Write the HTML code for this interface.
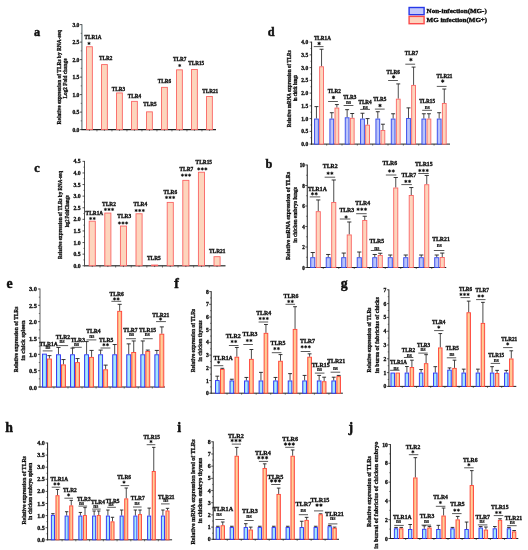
<!DOCTYPE html>
<html><head><meta charset="utf-8"><title>TLR expression figure</title>
<style>
html,body{margin:0;padding:0;background:#fff;width:528px;height:550px;overflow:hidden}
svg{will-change:transform;filter:blur(0.3px)}
svg text{font-family:"Liberation Serif",serif;font-weight:bold;stroke:#111;stroke-width:0.32px}
svg text.L{stroke-width:0.45px}
svg text.G{stroke-width:0.4px}
svg text.N{stroke-width:0.18px}
svg text.T{stroke-width:0.3px}
</style></head><body>
<svg width="528" height="550" viewBox="0 0 528 550" style="display:block"><rect width="528" height="550" fill="#fff"/>
<defs><linearGradient id="gBlue" x1="0" x2="1" y1="0" y2="0"><stop offset="0" stop-color="#aeb6f7"/><stop offset="0.6" stop-color="#bcc7fc"/><stop offset="1" stop-color="#abc2f7"/></linearGradient><linearGradient id="gCyan" x1="0" x2="1" y1="0" y2="0"><stop offset="0" stop-color="#86cdfb"/><stop offset="0.5" stop-color="#acedfb"/><stop offset="1" stop-color="#94d4f8"/></linearGradient><linearGradient id="gOrange" x1="0" x2="1" y1="0" y2="0"><stop offset="0" stop-color="#ffb07c"/><stop offset="0.45" stop-color="#ffd49a"/><stop offset="1" stop-color="#ff9e86"/></linearGradient></defs>
<g id="panel-a">
<line x1="81.9" y1="24.2" x2="81.9" y2="130.1" stroke="#808b8e" stroke-width="1.4"/>
<line x1="81.4" y1="129.6" x2="216" y2="129.6" stroke="#222" stroke-width="1.2"/>
<line x1="79.9" y1="129.6" x2="81.9" y2="129.6" stroke="#222" stroke-width="0.75"/>
<text x="79.4" y="129.6" font-size="5.6" text-anchor="end" dominant-baseline="central" fill="#111">0.0</text>
<line x1="80.7" y1="120.85" x2="81.9" y2="120.85" stroke="#222" stroke-width="0.55"/>
<line x1="79.9" y1="112.1" x2="81.9" y2="112.1" stroke="#222" stroke-width="0.75"/>
<text x="79.4" y="112.1" font-size="5.6" text-anchor="end" dominant-baseline="central" fill="#111">0.5</text>
<line x1="80.7" y1="103.35" x2="81.9" y2="103.35" stroke="#222" stroke-width="0.55"/>
<line x1="79.9" y1="94.6" x2="81.9" y2="94.6" stroke="#222" stroke-width="0.75"/>
<text x="79.4" y="94.6" font-size="5.6" text-anchor="end" dominant-baseline="central" fill="#111">1.0</text>
<line x1="80.7" y1="85.85" x2="81.9" y2="85.85" stroke="#222" stroke-width="0.55"/>
<line x1="79.9" y1="77.1" x2="81.9" y2="77.1" stroke="#222" stroke-width="0.75"/>
<text x="79.4" y="77.1" font-size="5.6" text-anchor="end" dominant-baseline="central" fill="#111">1.5</text>
<line x1="80.7" y1="68.35" x2="81.9" y2="68.35" stroke="#222" stroke-width="0.55"/>
<line x1="79.9" y1="59.6" x2="81.9" y2="59.6" stroke="#222" stroke-width="0.75"/>
<text x="79.4" y="59.6" font-size="5.6" text-anchor="end" dominant-baseline="central" fill="#111">2.0</text>
<line x1="80.7" y1="50.85" x2="81.9" y2="50.85" stroke="#222" stroke-width="0.55"/>
<line x1="79.9" y1="42.1" x2="81.9" y2="42.1" stroke="#222" stroke-width="0.75"/>
<text x="79.4" y="42.1" font-size="5.6" text-anchor="end" dominant-baseline="central" fill="#111">2.5</text>
<line x1="80.7" y1="33.35" x2="81.9" y2="33.35" stroke="#222" stroke-width="0.55"/>
<line x1="79.9" y1="24.6" x2="81.9" y2="24.6" stroke="#222" stroke-width="0.75"/>
<text x="79.4" y="24.6" font-size="5.6" text-anchor="end" dominant-baseline="central" fill="#111">3.0</text>
<rect x="86.55" y="46.75" width="5.8" height="82.85" fill="#fdd5bd" stroke="#fa6464" stroke-width="0.9"/>
<path d="M89.00 41.79 L89.44 42.63 L90.39 42.59 L89.89 43.40 L90.39 44.20 L89.44 44.17 L89.00 45.01 L88.56 44.17 L87.61 44.20 L88.11 43.40 L87.61 42.59 L88.56 42.63 Z" fill="#111" stroke="#111" stroke-width="0.25"/>
<text x="93.1" y="36.8" font-size="5.2" text-anchor="middle" dominant-baseline="central" fill="#111">TLR1A</text>
<line x1="89.45" y1="129.6" x2="89.45" y2="130.9" stroke="#222" stroke-width="0.6"/>
<line x1="96.95" y1="129.6" x2="96.95" y2="131.4" stroke="#222" stroke-width="0.6"/>
<rect x="101.55" y="64.6" width="5.8" height="65" fill="#fdd5bd" stroke="#fa6464" stroke-width="0.9"/>
<text x="105.7" y="58.1" font-size="5.2" text-anchor="middle" dominant-baseline="central" fill="#111">TLR2</text>
<line x1="104.45" y1="129.6" x2="104.45" y2="130.9" stroke="#222" stroke-width="0.6"/>
<line x1="111.95" y1="129.6" x2="111.95" y2="131.4" stroke="#222" stroke-width="0.6"/>
<rect x="116.55" y="92.95" width="5.8" height="36.65" fill="#fdd5bd" stroke="#fa6464" stroke-width="0.9"/>
<text x="118.4" y="89" font-size="5.2" text-anchor="middle" dominant-baseline="central" fill="#111">TLR3</text>
<line x1="119.45" y1="129.6" x2="119.45" y2="130.9" stroke="#222" stroke-width="0.6"/>
<line x1="126.95" y1="129.6" x2="126.95" y2="131.4" stroke="#222" stroke-width="0.6"/>
<rect x="131.55" y="101.35" width="5.8" height="28.25" fill="#fdd5bd" stroke="#fa6464" stroke-width="0.9"/>
<text x="134.4" y="96.2" font-size="5.2" text-anchor="middle" dominant-baseline="central" fill="#111">TLR4</text>
<line x1="134.45" y1="129.6" x2="134.45" y2="130.9" stroke="#222" stroke-width="0.6"/>
<line x1="141.95" y1="129.6" x2="141.95" y2="131.4" stroke="#222" stroke-width="0.6"/>
<rect x="146.55" y="111.85" width="5.8" height="17.75" fill="#fdd5bd" stroke="#fa6464" stroke-width="0.9"/>
<text x="150" y="104.2" font-size="5.2" text-anchor="middle" dominant-baseline="central" fill="#111">TLR5</text>
<line x1="149.45" y1="129.6" x2="149.45" y2="130.9" stroke="#222" stroke-width="0.6"/>
<line x1="156.95" y1="129.6" x2="156.95" y2="131.4" stroke="#222" stroke-width="0.6"/>
<rect x="161.55" y="87.35" width="5.8" height="42.25" fill="#fdd5bd" stroke="#fa6464" stroke-width="0.9"/>
<text x="164.5" y="81.4" font-size="5.2" text-anchor="middle" dominant-baseline="central" fill="#111">TLR6</text>
<line x1="164.45" y1="129.6" x2="164.45" y2="130.9" stroke="#222" stroke-width="0.6"/>
<line x1="171.95" y1="129.6" x2="171.95" y2="131.4" stroke="#222" stroke-width="0.6"/>
<rect x="176.55" y="69.85" width="5.8" height="59.75" fill="#fdd5bd" stroke="#fa6464" stroke-width="0.9"/>
<path d="M179.70 63.89 L180.14 64.73 L181.09 64.69 L180.59 65.50 L181.09 66.31 L180.14 66.27 L179.70 67.11 L179.26 66.27 L178.31 66.31 L178.81 65.50 L178.31 64.69 L179.26 64.73 Z" fill="#111" stroke="#111" stroke-width="0.25"/>
<text x="179.7" y="59.4" font-size="5.2" text-anchor="middle" dominant-baseline="central" fill="#111">TLR7</text>
<line x1="179.45" y1="129.6" x2="179.45" y2="130.9" stroke="#222" stroke-width="0.6"/>
<line x1="186.95" y1="129.6" x2="186.95" y2="131.4" stroke="#222" stroke-width="0.6"/>
<rect x="191.55" y="69.5" width="5.8" height="60.1" fill="#fdd5bd" stroke="#fa6464" stroke-width="0.9"/>
<text x="196.3" y="62.9" font-size="5.2" text-anchor="middle" dominant-baseline="central" fill="#111">TLR15</text>
<line x1="194.45" y1="129.6" x2="194.45" y2="130.9" stroke="#222" stroke-width="0.6"/>
<line x1="201.95" y1="129.6" x2="201.95" y2="131.4" stroke="#222" stroke-width="0.6"/>
<rect x="206.55" y="96.45" width="5.8" height="33.15" fill="#fdd5bd" stroke="#fa6464" stroke-width="0.9"/>
<text x="210.2" y="90.9" font-size="5.2" text-anchor="middle" dominant-baseline="central" fill="#111">TLR21</text>
<line x1="209.45" y1="129.6" x2="209.45" y2="130.9" stroke="#222" stroke-width="0.6"/>
<text class="T" x="58.8" y="77.2" font-size="5.41" text-anchor="middle" dominant-baseline="central" textLength="94.4" lengthAdjust="spacingAndGlyphs" fill="#111" transform="rotate(-90 58.8 77.2)">Relative expression of TLRs by RNA-seq</text>
<text class="T" x="65.5" y="78.45" font-size="5.4" text-anchor="middle" dominant-baseline="central" textLength="39.9" lengthAdjust="spacingAndGlyphs" fill="#111" transform="rotate(-90 65.5 78.45)">Log2 Fold change</text>
<text class="L" x="37.2" y="32.44" font-size="12.3" text-anchor="middle" dominant-baseline="central" fill="#111">a</text>
</g>
<g id="panel-c">
<line x1="84.5" y1="160.95" x2="84.5" y2="266.25" stroke="#222" stroke-width="0.8"/>
<line x1="84" y1="265.75" x2="225.5" y2="265.75" stroke="#555" stroke-width="1.3"/>
<line x1="82.5" y1="265.75" x2="84.5" y2="265.75" stroke="#222" stroke-width="0.75"/>
<text x="80.6" y="265.75" font-size="5.7" text-anchor="end" dominant-baseline="central" fill="#111">0.0</text>
<line x1="83.3" y1="259.95" x2="84.5" y2="259.95" stroke="#222" stroke-width="0.55"/>
<line x1="82.5" y1="254.15" x2="84.5" y2="254.15" stroke="#222" stroke-width="0.75"/>
<text x="80.6" y="254.15" font-size="5.7" text-anchor="end" dominant-baseline="central" fill="#111">0.5</text>
<line x1="83.3" y1="248.35" x2="84.5" y2="248.35" stroke="#222" stroke-width="0.55"/>
<line x1="82.5" y1="242.55" x2="84.5" y2="242.55" stroke="#222" stroke-width="0.75"/>
<text x="80.6" y="242.55" font-size="5.7" text-anchor="end" dominant-baseline="central" fill="#111">1.0</text>
<line x1="83.3" y1="236.75" x2="84.5" y2="236.75" stroke="#222" stroke-width="0.55"/>
<line x1="82.5" y1="230.95" x2="84.5" y2="230.95" stroke="#222" stroke-width="0.75"/>
<text x="80.6" y="230.95" font-size="5.7" text-anchor="end" dominant-baseline="central" fill="#111">1.5</text>
<line x1="83.3" y1="225.15" x2="84.5" y2="225.15" stroke="#222" stroke-width="0.55"/>
<line x1="82.5" y1="219.35" x2="84.5" y2="219.35" stroke="#222" stroke-width="0.75"/>
<text x="80.6" y="219.35" font-size="5.7" text-anchor="end" dominant-baseline="central" fill="#111">2.0</text>
<line x1="83.3" y1="213.55" x2="84.5" y2="213.55" stroke="#222" stroke-width="0.55"/>
<line x1="82.5" y1="207.75" x2="84.5" y2="207.75" stroke="#222" stroke-width="0.75"/>
<text x="80.6" y="207.75" font-size="5.7" text-anchor="end" dominant-baseline="central" fill="#111">2.5</text>
<line x1="83.3" y1="201.95" x2="84.5" y2="201.95" stroke="#222" stroke-width="0.55"/>
<line x1="82.5" y1="196.15" x2="84.5" y2="196.15" stroke="#222" stroke-width="0.75"/>
<text x="80.6" y="196.15" font-size="5.7" text-anchor="end" dominant-baseline="central" fill="#111">3.0</text>
<line x1="83.3" y1="190.35" x2="84.5" y2="190.35" stroke="#222" stroke-width="0.55"/>
<line x1="82.5" y1="184.55" x2="84.5" y2="184.55" stroke="#222" stroke-width="0.75"/>
<text x="80.6" y="184.55" font-size="5.7" text-anchor="end" dominant-baseline="central" fill="#111">3.5</text>
<line x1="83.3" y1="178.75" x2="84.5" y2="178.75" stroke="#222" stroke-width="0.55"/>
<line x1="82.5" y1="172.95" x2="84.5" y2="172.95" stroke="#222" stroke-width="0.75"/>
<text x="80.6" y="172.95" font-size="5.7" text-anchor="end" dominant-baseline="central" fill="#111">4.0</text>
<line x1="83.3" y1="167.15" x2="84.5" y2="167.15" stroke="#222" stroke-width="0.55"/>
<line x1="82.5" y1="161.35" x2="84.5" y2="161.35" stroke="#222" stroke-width="0.75"/>
<text x="80.6" y="161.35" font-size="5.7" text-anchor="end" dominant-baseline="central" fill="#111">4.5</text>
<rect x="89.2" y="221.19" width="6.1" height="44.56" fill="#fdd5bd" stroke="#fa6464" stroke-width="0.9"/>
<path d="M90.62 216.89 L91.06 217.73 L92.01 217.69 L91.50 218.50 L92.01 219.31 L91.06 219.27 L90.62 220.11 L90.17 219.27 L89.22 219.31 L89.73 218.50 L89.22 217.69 L90.17 217.73 ZM94.19 216.89 L94.63 217.73 L95.58 217.69 L95.07 218.50 L95.58 219.31 L94.63 219.27 L94.19 220.11 L93.74 219.27 L92.79 219.31 L93.30 218.50 L92.79 217.69 L93.74 217.73 Z" fill="#111" stroke="#111" stroke-width="0.25"/>
<text x="94.4" y="213.2" font-size="5.4" text-anchor="middle" dominant-baseline="central" fill="#111">TLR1A</text>
<line x1="92.25" y1="265.75" x2="92.25" y2="267.05" stroke="#222" stroke-width="0.6"/>
<line x1="100.05" y1="265.75" x2="100.05" y2="267.55" stroke="#222" stroke-width="0.6"/>
<rect x="104.8" y="213.07" width="6.1" height="52.68" fill="#fdd5bd" stroke="#fa6464" stroke-width="0.9"/>
<path d="M105.43 207.79 L105.87 208.63 L106.82 208.59 L106.32 209.40 L106.82 210.21 L105.87 210.17 L105.43 211.01 L104.99 210.17 L104.04 210.21 L104.54 209.40 L104.04 208.59 L104.99 208.63 ZM109.00 207.79 L109.44 208.63 L110.39 208.59 L109.89 209.40 L110.39 210.21 L109.44 210.17 L109.00 211.01 L108.56 210.17 L107.61 210.21 L108.11 209.40 L107.61 208.59 L108.56 208.63 ZM112.57 207.79 L113.01 208.63 L113.96 208.59 L113.46 209.40 L113.96 210.21 L113.01 210.17 L112.57 211.01 L112.13 210.17 L111.18 210.21 L111.68 209.40 L111.18 208.59 L112.13 208.63 Z" fill="#111" stroke="#111" stroke-width="0.25"/>
<text x="109" y="204.1" font-size="5.4" text-anchor="middle" dominant-baseline="central" fill="#111">TLR2</text>
<line x1="107.85" y1="265.75" x2="107.85" y2="267.05" stroke="#222" stroke-width="0.6"/>
<line x1="115.65" y1="265.75" x2="115.65" y2="267.55" stroke="#222" stroke-width="0.6"/>
<rect x="120.4" y="226.06" width="6.1" height="39.69" fill="#fdd5bd" stroke="#fa6464" stroke-width="0.9"/>
<path d="M119.43 221.39 L119.87 222.23 L120.82 222.19 L120.32 223.00 L120.82 223.81 L119.87 223.77 L119.43 224.61 L118.99 223.77 L118.04 223.81 L118.54 223.00 L118.04 222.19 L118.99 222.23 ZM123.00 221.39 L123.44 222.23 L124.39 222.19 L123.89 223.00 L124.39 223.81 L123.44 223.77 L123.00 224.61 L122.56 223.77 L121.61 223.81 L122.11 223.00 L121.61 222.19 L122.56 222.23 ZM126.57 221.39 L127.01 222.23 L127.96 222.19 L127.46 223.00 L127.96 223.81 L127.01 223.77 L126.57 224.61 L126.13 223.77 L125.18 223.81 L125.68 223.00 L125.18 222.19 L126.13 222.23 Z" fill="#111" stroke="#111" stroke-width="0.25"/>
<text x="124.2" y="215.8" font-size="5.4" text-anchor="middle" dominant-baseline="central" fill="#111">TLR3</text>
<line x1="123.45" y1="265.75" x2="123.45" y2="267.05" stroke="#222" stroke-width="0.6"/>
<line x1="131.25" y1="265.75" x2="131.25" y2="267.55" stroke="#222" stroke-width="0.6"/>
<rect x="136" y="213.77" width="6.1" height="51.98" fill="#fdd5bd" stroke="#fa6464" stroke-width="0.9"/>
<path d="M136.13 208.89 L136.57 209.73 L137.52 209.69 L137.02 210.50 L137.52 211.31 L136.57 211.27 L136.13 212.11 L135.69 211.27 L134.74 211.31 L135.24 210.50 L134.74 209.69 L135.69 209.73 ZM139.70 208.89 L140.14 209.73 L141.09 209.69 L140.59 210.50 L141.09 211.31 L140.14 211.27 L139.70 212.11 L139.26 211.27 L138.31 211.31 L138.81 210.50 L138.31 209.69 L139.26 209.73 ZM143.27 208.89 L143.71 209.73 L144.66 209.69 L144.16 210.50 L144.66 211.31 L143.71 211.27 L143.27 212.11 L142.83 211.27 L141.88 211.31 L142.38 210.50 L141.88 209.69 L142.83 209.73 Z" fill="#111" stroke="#111" stroke-width="0.25"/>
<text x="140.3" y="203.8" font-size="5.4" text-anchor="middle" dominant-baseline="central" fill="#111">TLR4</text>
<line x1="139.05" y1="265.75" x2="139.05" y2="267.05" stroke="#222" stroke-width="0.6"/>
<line x1="146.85" y1="265.75" x2="146.85" y2="267.55" stroke="#222" stroke-width="0.6"/>
<rect x="151.6" y="265.04" width="6.1" height="0.71" fill="#fdd5bd" stroke="#fa6464" stroke-width="0.9"/>
<text x="153.9" y="257.6" font-size="5.4" text-anchor="middle" dominant-baseline="central" fill="#111">TLR5</text>
<line x1="154.65" y1="265.75" x2="154.65" y2="267.05" stroke="#222" stroke-width="0.6"/>
<line x1="162.45" y1="265.75" x2="162.45" y2="267.55" stroke="#222" stroke-width="0.6"/>
<rect x="167.2" y="202.4" width="6.1" height="63.35" fill="#fdd5bd" stroke="#fa6464" stroke-width="0.9"/>
<path d="M166.53 195.79 L166.97 196.63 L167.92 196.59 L167.42 197.40 L167.92 198.21 L166.97 198.17 L166.53 199.01 L166.09 198.17 L165.14 198.21 L165.64 197.40 L165.14 196.59 L166.09 196.63 ZM170.10 195.79 L170.54 196.63 L171.49 196.59 L170.99 197.40 L171.49 198.21 L170.54 198.17 L170.10 199.01 L169.66 198.17 L168.71 198.21 L169.21 197.40 L168.71 196.59 L169.66 196.63 ZM173.67 195.79 L174.11 196.63 L175.06 196.59 L174.56 197.40 L175.06 198.21 L174.11 198.17 L173.67 199.01 L173.23 198.17 L172.28 198.21 L172.78 197.40 L172.28 196.59 L173.23 196.63 Z" fill="#111" stroke="#111" stroke-width="0.25"/>
<text x="170.3" y="192.1" font-size="5.4" text-anchor="middle" dominant-baseline="central" fill="#111">TLR6</text>
<line x1="170.25" y1="265.75" x2="170.25" y2="267.05" stroke="#222" stroke-width="0.6"/>
<line x1="178.05" y1="265.75" x2="178.05" y2="267.55" stroke="#222" stroke-width="0.6"/>
<rect x="182.8" y="180.36" width="6.1" height="85.39" fill="#fdd5bd" stroke="#fa6464" stroke-width="0.9"/>
<path d="M182.43 173.59 L182.87 174.43 L183.82 174.39 L183.32 175.20 L183.82 176.00 L182.87 175.97 L182.43 176.81 L181.99 175.97 L181.04 176.00 L181.54 175.20 L181.04 174.39 L181.99 174.43 ZM186.00 173.59 L186.44 174.43 L187.39 174.39 L186.89 175.20 L187.39 176.00 L186.44 175.97 L186.00 176.81 L185.56 175.97 L184.61 176.00 L185.11 175.20 L184.61 174.39 L185.56 174.43 ZM189.57 173.59 L190.01 174.43 L190.96 174.39 L190.46 175.20 L190.96 176.00 L190.01 175.97 L189.57 176.81 L189.13 175.97 L188.18 176.00 L188.68 175.20 L188.18 174.39 L189.13 174.43 Z" fill="#111" stroke="#111" stroke-width="0.25"/>
<text x="186.4" y="168.9" font-size="5.4" text-anchor="middle" dominant-baseline="central" fill="#111">TLR7</text>
<line x1="185.85" y1="265.75" x2="185.85" y2="267.05" stroke="#222" stroke-width="0.6"/>
<line x1="193.65" y1="265.75" x2="193.65" y2="267.55" stroke="#222" stroke-width="0.6"/>
<rect x="198.4" y="172.24" width="6.1" height="93.51" fill="#fdd5bd" stroke="#fa6464" stroke-width="0.9"/>
<path d="M198.73 167.29 L199.17 168.13 L200.12 168.09 L199.62 168.90 L200.12 169.71 L199.17 169.67 L198.73 170.51 L198.29 169.67 L197.34 169.71 L197.84 168.90 L197.34 168.09 L198.29 168.13 ZM202.30 167.29 L202.74 168.13 L203.69 168.09 L203.19 168.90 L203.69 169.71 L202.74 169.67 L202.30 170.51 L201.86 169.67 L200.91 169.71 L201.41 168.90 L200.91 168.09 L201.86 168.13 ZM205.87 167.29 L206.31 168.13 L207.26 168.09 L206.76 168.90 L207.26 169.71 L206.31 169.67 L205.87 170.51 L205.43 169.67 L204.48 169.71 L204.98 168.90 L204.48 168.09 L205.43 168.13 Z" fill="#111" stroke="#111" stroke-width="0.25"/>
<text x="203.8" y="161.8" font-size="5.4" text-anchor="middle" dominant-baseline="central" fill="#111">TLR15</text>
<line x1="201.45" y1="265.75" x2="201.45" y2="267.05" stroke="#222" stroke-width="0.6"/>
<line x1="209.25" y1="265.75" x2="209.25" y2="267.55" stroke="#222" stroke-width="0.6"/>
<rect x="214" y="256.69" width="6.1" height="9.06" fill="#fdd5bd" stroke="#fa6464" stroke-width="0.9"/>
<text x="217.2" y="251" font-size="5.4" text-anchor="middle" dominant-baseline="central" fill="#111">TLR21</text>
<line x1="217.05" y1="265.75" x2="217.05" y2="267.05" stroke="#222" stroke-width="0.6"/>
<text class="T" x="59.6" y="215" font-size="5.4" text-anchor="middle" dominant-baseline="central" textLength="88.2" lengthAdjust="spacingAndGlyphs" fill="#111" transform="rotate(-90 59.6 215)">Relative expression of TLRs by RNA-seq</text>
<text class="T" x="67.1" y="211.35" font-size="5.4" text-anchor="middle" dominant-baseline="central" textLength="31.9" lengthAdjust="spacingAndGlyphs" fill="#111" transform="rotate(-90 67.1 211.35)">log2 FoldChange</text>
<text class="L" x="37" y="168.24" font-size="12.3" text-anchor="middle" dominant-baseline="central" fill="#111">c</text>
</g>
<g id="panel-d">
<line x1="311.6" y1="41.7" x2="311.6" y2="144.6" stroke="#222" stroke-width="1"/>
<line x1="311.1" y1="144.1" x2="450" y2="144.1" stroke="#222" stroke-width="1"/>
<line x1="309.6" y1="144.1" x2="311.6" y2="144.1" stroke="#222" stroke-width="0.75"/>
<text x="308.2" y="144.1" font-size="5.5" text-anchor="end" dominant-baseline="central" fill="#111">0.0</text>
<line x1="310.4" y1="137.72" x2="311.6" y2="137.72" stroke="#222" stroke-width="0.55"/>
<line x1="309.6" y1="131.35" x2="311.6" y2="131.35" stroke="#222" stroke-width="0.75"/>
<text x="308.2" y="131.35" font-size="5.5" text-anchor="end" dominant-baseline="central" fill="#111">0.5</text>
<line x1="310.4" y1="124.97" x2="311.6" y2="124.97" stroke="#222" stroke-width="0.55"/>
<line x1="309.6" y1="118.6" x2="311.6" y2="118.6" stroke="#222" stroke-width="0.75"/>
<text x="308.2" y="118.6" font-size="5.5" text-anchor="end" dominant-baseline="central" fill="#111">1.0</text>
<line x1="310.4" y1="112.22" x2="311.6" y2="112.22" stroke="#222" stroke-width="0.55"/>
<line x1="309.6" y1="105.85" x2="311.6" y2="105.85" stroke="#222" stroke-width="0.75"/>
<text x="308.2" y="105.85" font-size="5.5" text-anchor="end" dominant-baseline="central" fill="#111">1.5</text>
<line x1="310.4" y1="99.47" x2="311.6" y2="99.47" stroke="#222" stroke-width="0.55"/>
<line x1="309.6" y1="93.1" x2="311.6" y2="93.1" stroke="#222" stroke-width="0.75"/>
<text x="308.2" y="93.1" font-size="5.5" text-anchor="end" dominant-baseline="central" fill="#111">2.0</text>
<line x1="310.4" y1="86.72" x2="311.6" y2="86.72" stroke="#222" stroke-width="0.55"/>
<line x1="309.6" y1="80.35" x2="311.6" y2="80.35" stroke="#222" stroke-width="0.75"/>
<text x="308.2" y="80.35" font-size="5.5" text-anchor="end" dominant-baseline="central" fill="#111">2.5</text>
<line x1="310.4" y1="73.97" x2="311.6" y2="73.97" stroke="#222" stroke-width="0.55"/>
<line x1="309.6" y1="67.6" x2="311.6" y2="67.6" stroke="#222" stroke-width="0.75"/>
<text x="308.2" y="67.6" font-size="5.5" text-anchor="end" dominant-baseline="central" fill="#111">3.0</text>
<line x1="310.4" y1="61.22" x2="311.6" y2="61.22" stroke="#222" stroke-width="0.55"/>
<line x1="309.6" y1="54.85" x2="311.6" y2="54.85" stroke="#222" stroke-width="0.75"/>
<text x="308.2" y="54.85" font-size="5.5" text-anchor="end" dominant-baseline="central" fill="#111">3.5</text>
<line x1="310.4" y1="48.47" x2="311.6" y2="48.47" stroke="#222" stroke-width="0.55"/>
<line x1="309.6" y1="42.1" x2="311.6" y2="42.1" stroke="#222" stroke-width="0.75"/>
<text x="308.2" y="42.1" font-size="5.5" text-anchor="end" dominant-baseline="central" fill="#111">4.0</text>
<line x1="316.45" y1="106.61" x2="316.45" y2="118.6" stroke="#1e1e1e" stroke-width="0.8"/>
<line x1="314.48" y1="106.61" x2="318.42" y2="106.61" stroke="#1e1e1e" stroke-width="0.9"/>
<line x1="321.55" y1="49.24" x2="321.55" y2="66.33" stroke="#1e1e1e" stroke-width="0.8"/>
<line x1="319.58" y1="49.24" x2="323.52" y2="49.24" stroke="#1e1e1e" stroke-width="0.9"/>
<rect x="314.55" y="119.05" width="3.8" height="25.05" fill="url(#gBlue)" stroke="#3348ea" stroke-width="0.9"/>
<rect x="319.65" y="66.78" width="3.8" height="77.32" fill="#fdd5bd" stroke="#fa6464" stroke-width="0.9"/>
<line x1="313.75" y1="46.6" x2="323.55" y2="46.6" stroke="#222" stroke-width="0.75"/>
<path d="M319.10 41.66 L319.61 42.62 L320.69 42.58 L320.11 43.50 L320.69 44.42 L319.61 44.38 L319.10 45.34 L318.59 44.38 L317.51 44.42 L318.09 43.50 L317.51 42.58 L318.59 42.62 Z" fill="#111" stroke="#111" stroke-width="0.25"/>
<text x="322.4" y="38.2" font-size="5.2" text-anchor="middle" dominant-baseline="central" fill="#111">TLR1A</text>
<line x1="326.67" y1="144.1" x2="326.67" y2="145.6" stroke="#222" stroke-width="0.6"/>
<line x1="331.79" y1="112.73" x2="331.79" y2="118.6" stroke="#1e1e1e" stroke-width="0.8"/>
<line x1="329.82" y1="112.73" x2="333.76" y2="112.73" stroke="#1e1e1e" stroke-width="0.9"/>
<line x1="336.89" y1="104.57" x2="336.89" y2="107.63" stroke="#1e1e1e" stroke-width="0.8"/>
<line x1="334.92" y1="104.57" x2="338.86" y2="104.57" stroke="#1e1e1e" stroke-width="0.9"/>
<rect x="329.89" y="119.05" width="3.8" height="25.05" fill="url(#gBlue)" stroke="#3348ea" stroke-width="0.9"/>
<rect x="334.99" y="108.08" width="3.8" height="36.01" fill="#fdd5bd" stroke="#fa6464" stroke-width="0.9"/>
<line x1="328.1" y1="101.5" x2="337.9" y2="101.5" stroke="#222" stroke-width="0.75"/>
<path d="M333.50 95.66 L334.01 96.62 L335.09 96.58 L334.51 97.50 L335.09 98.42 L334.01 98.38 L333.50 99.34 L332.99 98.38 L331.91 98.42 L332.49 97.50 L331.91 96.58 L332.99 96.62 Z" fill="#111" stroke="#111" stroke-width="0.25"/>
<text x="334.3" y="91" font-size="5.2" text-anchor="middle" dominant-baseline="central" fill="#111">TLR2</text>
<line x1="342.01" y1="144.1" x2="342.01" y2="145.6" stroke="#222" stroke-width="0.6"/>
<line x1="347.13" y1="109.67" x2="347.13" y2="117.32" stroke="#1e1e1e" stroke-width="0.8"/>
<line x1="345.16" y1="109.67" x2="349.1" y2="109.67" stroke="#1e1e1e" stroke-width="0.9"/>
<line x1="352.23" y1="113.5" x2="352.23" y2="117.83" stroke="#1e1e1e" stroke-width="0.8"/>
<line x1="350.26" y1="113.5" x2="354.2" y2="113.5" stroke="#1e1e1e" stroke-width="0.9"/>
<rect x="345.23" y="117.77" width="3.8" height="26.33" fill="url(#gBlue)" stroke="#3348ea" stroke-width="0.9"/>
<rect x="350.33" y="118.28" width="3.8" height="25.82" fill="#fdd5bd" stroke="#fa6464" stroke-width="0.9"/>
<line x1="343.6" y1="105.5" x2="353.4" y2="105.5" stroke="#222" stroke-width="0.75"/>
<text class="N" x="348.5" y="102.47" font-size="5.3" text-anchor="middle" dominant-baseline="central" fill="#111">ns</text>
<text x="349.8" y="96.9" font-size="5.2" text-anchor="middle" dominant-baseline="central" fill="#111">TLR3</text>
<line x1="357.35" y1="144.1" x2="357.35" y2="145.6" stroke="#222" stroke-width="0.6"/>
<line x1="362.47" y1="113.24" x2="362.47" y2="118.6" stroke="#1e1e1e" stroke-width="0.8"/>
<line x1="360.5" y1="113.24" x2="364.44" y2="113.24" stroke="#1e1e1e" stroke-width="0.9"/>
<line x1="367.57" y1="118.6" x2="367.57" y2="124.72" stroke="#1e1e1e" stroke-width="0.8"/>
<line x1="365.6" y1="118.6" x2="369.54" y2="118.6" stroke="#1e1e1e" stroke-width="0.9"/>
<rect x="360.57" y="119.05" width="3.8" height="25.05" fill="url(#gBlue)" stroke="#3348ea" stroke-width="0.9"/>
<rect x="365.67" y="125.17" width="3.8" height="18.93" fill="#fdd5bd" stroke="#fa6464" stroke-width="0.9"/>
<line x1="360.2" y1="109.4" x2="370" y2="109.4" stroke="#222" stroke-width="0.75"/>
<text class="N" x="365.2" y="106.97" font-size="5.3" text-anchor="middle" dominant-baseline="central" fill="#111">ns</text>
<text x="365.1" y="101.8" font-size="5.2" text-anchor="middle" dominant-baseline="central" fill="#111">TLR4</text>
<line x1="372.69" y1="144.1" x2="372.69" y2="145.6" stroke="#222" stroke-width="0.6"/>
<line x1="377.81" y1="111.72" x2="377.81" y2="118.6" stroke="#1e1e1e" stroke-width="0.8"/>
<line x1="375.84" y1="111.72" x2="379.78" y2="111.72" stroke="#1e1e1e" stroke-width="0.9"/>
<line x1="382.91" y1="124.21" x2="382.91" y2="130.07" stroke="#1e1e1e" stroke-width="0.8"/>
<line x1="380.94" y1="124.21" x2="384.88" y2="124.21" stroke="#1e1e1e" stroke-width="0.9"/>
<rect x="375.91" y="119.05" width="3.8" height="25.05" fill="url(#gBlue)" stroke="#3348ea" stroke-width="0.9"/>
<rect x="381.01" y="130.52" width="3.8" height="13.58" fill="#fdd5bd" stroke="#fa6464" stroke-width="0.9"/>
<line x1="374.9" y1="109.1" x2="384.7" y2="109.1" stroke="#222" stroke-width="0.75"/>
<path d="M380.00 103.66 L380.51 104.62 L381.59 104.58 L381.01 105.50 L381.59 106.42 L380.51 106.38 L380.00 107.34 L379.49 106.38 L378.41 106.42 L378.99 105.50 L378.41 104.58 L379.49 104.62 Z" fill="#111" stroke="#111" stroke-width="0.25"/>
<text x="379.8" y="99.2" font-size="5.2" text-anchor="middle" dominant-baseline="central" fill="#111">TLR5</text>
<line x1="388.03" y1="144.1" x2="388.03" y2="145.6" stroke="#222" stroke-width="0.6"/>
<line x1="393.15" y1="113.75" x2="393.15" y2="118.6" stroke="#1e1e1e" stroke-width="0.8"/>
<line x1="391.18" y1="113.75" x2="395.12" y2="113.75" stroke="#1e1e1e" stroke-width="0.9"/>
<line x1="398.25" y1="83.92" x2="398.25" y2="98.71" stroke="#1e1e1e" stroke-width="0.8"/>
<line x1="396.28" y1="83.92" x2="400.22" y2="83.92" stroke="#1e1e1e" stroke-width="0.9"/>
<rect x="391.25" y="119.05" width="3.8" height="25.05" fill="url(#gBlue)" stroke="#3348ea" stroke-width="0.9"/>
<rect x="396.35" y="99.16" width="3.8" height="44.94" fill="#fdd5bd" stroke="#fa6464" stroke-width="0.9"/>
<line x1="388.1" y1="80.5" x2="397.9" y2="80.5" stroke="#222" stroke-width="0.75"/>
<path d="M393.60 74.96 L394.11 75.92 L395.19 75.88 L394.61 76.80 L395.19 77.72 L394.11 77.68 L393.60 78.64 L393.09 77.68 L392.01 77.72 L392.59 76.80 L392.01 75.88 L393.09 75.92 Z" fill="#111" stroke="#111" stroke-width="0.25"/>
<text x="393.2" y="71.5" font-size="5.2" text-anchor="middle" dominant-baseline="central" fill="#111">TLR6</text>
<line x1="403.37" y1="144.1" x2="403.37" y2="145.6" stroke="#222" stroke-width="0.6"/>
<line x1="408.49" y1="107.89" x2="408.49" y2="118.09" stroke="#1e1e1e" stroke-width="0.8"/>
<line x1="406.52" y1="107.89" x2="410.46" y2="107.89" stroke="#1e1e1e" stroke-width="0.9"/>
<line x1="413.59" y1="67.09" x2="413.59" y2="84.94" stroke="#1e1e1e" stroke-width="0.8"/>
<line x1="411.62" y1="67.09" x2="415.56" y2="67.09" stroke="#1e1e1e" stroke-width="0.9"/>
<rect x="406.59" y="118.54" width="3.8" height="25.56" fill="url(#gBlue)" stroke="#3348ea" stroke-width="0.9"/>
<rect x="411.69" y="85.39" width="3.8" height="58.71" fill="#fdd5bd" stroke="#fa6464" stroke-width="0.9"/>
<line x1="405.3" y1="64.2" x2="415.1" y2="64.2" stroke="#222" stroke-width="0.75"/>
<path d="M410.90 57.76 L411.41 58.72 L412.49 58.68 L411.91 59.60 L412.49 60.52 L411.41 60.48 L410.90 61.44 L410.39 60.48 L409.31 60.52 L409.89 59.60 L409.31 58.68 L410.39 58.72 Z" fill="#111" stroke="#111" stroke-width="0.25"/>
<text x="411.5" y="52.7" font-size="5.2" text-anchor="middle" dominant-baseline="central" fill="#111">TLR7</text>
<line x1="418.71" y1="144.1" x2="418.71" y2="145.6" stroke="#222" stroke-width="0.6"/>
<line x1="423.83" y1="113.75" x2="423.83" y2="118.6" stroke="#1e1e1e" stroke-width="0.8"/>
<line x1="421.86" y1="113.75" x2="425.8" y2="113.75" stroke="#1e1e1e" stroke-width="0.9"/>
<line x1="428.93" y1="113.75" x2="428.93" y2="118.6" stroke="#1e1e1e" stroke-width="0.8"/>
<line x1="426.96" y1="113.75" x2="430.9" y2="113.75" stroke="#1e1e1e" stroke-width="0.9"/>
<rect x="421.93" y="119.05" width="3.8" height="25.05" fill="url(#gBlue)" stroke="#3348ea" stroke-width="0.9"/>
<rect x="427.03" y="119.05" width="3.8" height="25.05" fill="#fdd5bd" stroke="#fa6464" stroke-width="0.9"/>
<line x1="422.2" y1="110.3" x2="432" y2="110.3" stroke="#222" stroke-width="0.75"/>
<text class="N" x="427.2" y="106.77" font-size="5.3" text-anchor="middle" dominant-baseline="central" fill="#111">ns</text>
<text x="427.1" y="101.4" font-size="5.2" text-anchor="middle" dominant-baseline="central" fill="#111">TLR15</text>
<line x1="434.05" y1="144.1" x2="434.05" y2="145.6" stroke="#222" stroke-width="0.6"/>
<line x1="439.17" y1="112.73" x2="439.17" y2="118.6" stroke="#1e1e1e" stroke-width="0.8"/>
<line x1="437.2" y1="112.73" x2="441.14" y2="112.73" stroke="#1e1e1e" stroke-width="0.9"/>
<line x1="444.27" y1="89.02" x2="444.27" y2="103.04" stroke="#1e1e1e" stroke-width="0.8"/>
<line x1="442.3" y1="89.02" x2="446.24" y2="89.02" stroke="#1e1e1e" stroke-width="0.9"/>
<rect x="437.27" y="119.05" width="3.8" height="25.05" fill="url(#gBlue)" stroke="#3348ea" stroke-width="0.9"/>
<rect x="442.37" y="103.49" width="3.8" height="40.6" fill="#fdd5bd" stroke="#fa6464" stroke-width="0.9"/>
<line x1="436.8" y1="86.4" x2="446.6" y2="86.4" stroke="#222" stroke-width="0.75"/>
<path d="M442.70 79.26 L443.21 80.22 L444.29 80.18 L443.71 81.10 L444.29 82.02 L443.21 81.98 L442.70 82.94 L442.19 81.98 L441.11 82.02 L441.69 81.10 L441.11 80.18 L442.19 80.22 Z" fill="#111" stroke="#111" stroke-width="0.25"/>
<text x="444.5" y="75.9" font-size="5.2" text-anchor="middle" dominant-baseline="central" fill="#111">TLR21</text>
<text class="T" x="289.2" y="88.75" font-size="5.4" text-anchor="middle" dominant-baseline="central" textLength="76.9" lengthAdjust="spacingAndGlyphs" fill="#111" transform="rotate(-90 289.2 88.75)">Relative mRNA expression of TLRs</text>
<text class="T" x="294.8" y="88" font-size="5.4" text-anchor="middle" dominant-baseline="central" textLength="26.2" lengthAdjust="spacingAndGlyphs" fill="#111" transform="rotate(-90 294.8 88)">in chick lungs</text>
<text class="L" x="271.1" y="32.45" font-size="12.3" text-anchor="middle" dominant-baseline="central" fill="#111">d</text>
</g>
<g id="panel-b">
<line x1="307.25" y1="164.6" x2="307.25" y2="268" stroke="#222" stroke-width="1"/>
<line x1="306.75" y1="267.5" x2="446.25" y2="267.5" stroke="#222" stroke-width="1"/>
<line x1="305.25" y1="267.5" x2="307.25" y2="267.5" stroke="#222" stroke-width="0.75"/>
<text x="304.75" y="267.5" font-size="5.1" text-anchor="end" dominant-baseline="central" fill="#111">0</text>
<line x1="306.05" y1="257.25" x2="307.25" y2="257.25" stroke="#222" stroke-width="0.55"/>
<line x1="305.25" y1="247" x2="307.25" y2="247" stroke="#222" stroke-width="0.75"/>
<text x="304.75" y="247" font-size="5.1" text-anchor="end" dominant-baseline="central" fill="#111">2</text>
<line x1="306.05" y1="236.75" x2="307.25" y2="236.75" stroke="#222" stroke-width="0.55"/>
<line x1="305.25" y1="226.5" x2="307.25" y2="226.5" stroke="#222" stroke-width="0.75"/>
<text x="304.75" y="226.5" font-size="5.1" text-anchor="end" dominant-baseline="central" fill="#111">4</text>
<line x1="306.05" y1="216.25" x2="307.25" y2="216.25" stroke="#222" stroke-width="0.55"/>
<line x1="305.25" y1="206" x2="307.25" y2="206" stroke="#222" stroke-width="0.75"/>
<text x="304.75" y="206" font-size="5.1" text-anchor="end" dominant-baseline="central" fill="#111">6</text>
<line x1="306.05" y1="195.75" x2="307.25" y2="195.75" stroke="#222" stroke-width="0.55"/>
<line x1="305.25" y1="185.5" x2="307.25" y2="185.5" stroke="#222" stroke-width="0.75"/>
<text x="304.75" y="185.5" font-size="5.1" text-anchor="end" dominant-baseline="central" fill="#111">8</text>
<line x1="306.05" y1="175.25" x2="307.25" y2="175.25" stroke="#222" stroke-width="0.55"/>
<line x1="305.25" y1="165" x2="307.25" y2="165" stroke="#222" stroke-width="0.75"/>
<text x="304.75" y="165" font-size="5.1" text-anchor="end" dominant-baseline="central" fill="#111">10</text>
<line x1="312.75" y1="252.53" x2="312.75" y2="257.25" stroke="#1e1e1e" stroke-width="0.8"/>
<line x1="310.65" y1="252.53" x2="314.85" y2="252.53" stroke="#1e1e1e" stroke-width="0.9"/>
<line x1="318.25" y1="199.95" x2="318.25" y2="211.23" stroke="#1e1e1e" stroke-width="0.8"/>
<line x1="316.15" y1="199.95" x2="320.35" y2="199.95" stroke="#1e1e1e" stroke-width="0.9"/>
<rect x="310.7" y="257.7" width="4.1" height="9.8" fill="url(#gBlue)" stroke="#3348ea" stroke-width="0.9"/>
<rect x="316.2" y="211.68" width="4.1" height="55.82" fill="#fdd5bd" stroke="#fa6464" stroke-width="0.9"/>
<line x1="309.75" y1="196.9" x2="320.25" y2="196.9" stroke="#222" stroke-width="0.75"/>
<path d="M312.44 192.12 L312.90 193.00 L313.89 192.96 L313.36 193.80 L313.89 194.64 L312.90 194.60 L312.44 195.48 L311.98 194.60 L310.98 194.64 L311.52 193.80 L310.98 192.96 L311.98 193.00 ZM316.16 192.12 L316.62 193.00 L317.62 192.96 L317.08 193.80 L317.62 194.64 L316.62 194.60 L316.16 195.48 L315.70 194.60 L314.71 194.64 L315.24 193.80 L314.71 192.96 L315.70 193.00 Z" fill="#111" stroke="#111" stroke-width="0.25"/>
<text x="317.4" y="188.5" font-size="5.8" text-anchor="middle" dominant-baseline="central" fill="#111">TLR1A</text>
<line x1="323.25" y1="267.5" x2="323.25" y2="269" stroke="#222" stroke-width="0.6"/>
<line x1="328.25" y1="254.48" x2="328.25" y2="257.25" stroke="#1e1e1e" stroke-width="0.8"/>
<line x1="326.15" y1="254.48" x2="330.35" y2="254.48" stroke="#1e1e1e" stroke-width="0.9"/>
<line x1="333.75" y1="179.97" x2="333.75" y2="202" stroke="#1e1e1e" stroke-width="0.8"/>
<line x1="331.65" y1="179.97" x2="335.85" y2="179.97" stroke="#1e1e1e" stroke-width="0.9"/>
<rect x="326.2" y="257.7" width="4.1" height="9.8" fill="url(#gBlue)" stroke="#3348ea" stroke-width="0.9"/>
<rect x="331.7" y="202.45" width="4.1" height="65.05" fill="#fdd5bd" stroke="#fa6464" stroke-width="0.9"/>
<line x1="324.65" y1="177.2" x2="335.15" y2="177.2" stroke="#222" stroke-width="0.75"/>
<path d="M328.14 171.62 L328.60 172.50 L329.59 172.46 L329.06 173.30 L329.59 174.14 L328.60 174.10 L328.14 174.98 L327.68 174.10 L326.68 174.14 L327.22 173.30 L326.68 172.46 L327.68 172.50 ZM331.86 171.62 L332.32 172.50 L333.32 172.46 L332.78 173.30 L333.32 174.14 L332.32 174.10 L331.86 174.98 L331.40 174.10 L330.41 174.14 L330.94 173.30 L330.41 172.46 L331.40 172.50 Z" fill="#111" stroke="#111" stroke-width="0.25"/>
<text x="330.2" y="166.4" font-size="5.8" text-anchor="middle" dominant-baseline="central" fill="#111">TLR2</text>
<line x1="338.75" y1="267.5" x2="338.75" y2="269" stroke="#222" stroke-width="0.6"/>
<line x1="343.75" y1="253.05" x2="343.75" y2="257.25" stroke="#1e1e1e" stroke-width="0.8"/>
<line x1="341.65" y1="253.05" x2="345.85" y2="253.05" stroke="#1e1e1e" stroke-width="0.9"/>
<line x1="349.25" y1="221.99" x2="349.25" y2="234.5" stroke="#1e1e1e" stroke-width="0.8"/>
<line x1="347.15" y1="221.99" x2="351.35" y2="221.99" stroke="#1e1e1e" stroke-width="0.9"/>
<rect x="341.7" y="257.7" width="4.1" height="9.8" fill="url(#gBlue)" stroke="#3348ea" stroke-width="0.9"/>
<rect x="347.2" y="234.94" width="4.1" height="32.55" fill="#fdd5bd" stroke="#fa6464" stroke-width="0.9"/>
<line x1="339.85" y1="219" x2="350.35" y2="219" stroke="#222" stroke-width="0.75"/>
<path d="M346.10 215.32 L346.56 216.20 L347.55 216.16 L347.02 217.00 L347.55 217.84 L346.56 217.80 L346.10 218.68 L345.64 217.80 L344.65 217.84 L345.18 217.00 L344.65 216.16 L345.64 216.20 Z" fill="#111" stroke="#111" stroke-width="0.25"/>
<text x="346.8" y="210.1" font-size="5.8" text-anchor="middle" dominant-baseline="central" fill="#111">TLR3</text>
<line x1="354.25" y1="267.5" x2="354.25" y2="269" stroke="#222" stroke-width="0.6"/>
<line x1="359.25" y1="252.02" x2="359.25" y2="257.25" stroke="#1e1e1e" stroke-width="0.8"/>
<line x1="357.15" y1="252.02" x2="361.35" y2="252.02" stroke="#1e1e1e" stroke-width="0.9"/>
<line x1="364.75" y1="216.25" x2="364.75" y2="220.04" stroke="#1e1e1e" stroke-width="0.8"/>
<line x1="362.65" y1="216.25" x2="366.85" y2="216.25" stroke="#1e1e1e" stroke-width="0.9"/>
<rect x="357.2" y="257.7" width="4.1" height="9.8" fill="url(#gBlue)" stroke="#3348ea" stroke-width="0.9"/>
<rect x="362.7" y="220.49" width="4.1" height="47.01" fill="#fdd5bd" stroke="#fa6464" stroke-width="0.9"/>
<line x1="356.15" y1="213.7" x2="366.65" y2="213.7" stroke="#222" stroke-width="0.75"/>
<path d="M358.08 207.62 L358.54 208.50 L359.53 208.46 L359.00 209.30 L359.53 210.14 L358.54 210.10 L358.08 210.98 L357.62 210.10 L356.62 210.14 L357.15 209.30 L356.62 208.46 L357.62 208.50 ZM361.80 207.62 L362.26 208.50 L363.25 208.46 L362.72 209.30 L363.25 210.14 L362.26 210.10 L361.80 210.98 L361.34 210.10 L360.35 210.14 L360.88 209.30 L360.35 208.46 L361.34 208.50 ZM365.52 207.62 L365.98 208.50 L366.98 208.46 L366.45 209.30 L366.98 210.14 L365.98 210.10 L365.52 210.98 L365.06 210.10 L364.07 210.14 L364.60 209.30 L364.07 208.46 L365.06 208.50 Z" fill="#111" stroke="#111" stroke-width="0.25"/>
<text x="362.7" y="202.7" font-size="5.8" text-anchor="middle" dominant-baseline="central" fill="#111">TLR4</text>
<line x1="369.75" y1="267.5" x2="369.75" y2="269" stroke="#222" stroke-width="0.6"/>
<line x1="374.75" y1="254.48" x2="374.75" y2="257.25" stroke="#1e1e1e" stroke-width="0.8"/>
<line x1="372.65" y1="254.48" x2="376.85" y2="254.48" stroke="#1e1e1e" stroke-width="0.9"/>
<line x1="380.25" y1="253.25" x2="380.25" y2="255" stroke="#1e1e1e" stroke-width="0.8"/>
<line x1="378.15" y1="253.25" x2="382.35" y2="253.25" stroke="#1e1e1e" stroke-width="0.9"/>
<rect x="372.7" y="257.7" width="4.1" height="9.8" fill="url(#gBlue)" stroke="#3348ea" stroke-width="0.9"/>
<rect x="378.2" y="255.44" width="4.1" height="12.05" fill="#fdd5bd" stroke="#fa6464" stroke-width="0.9"/>
<line x1="370.75" y1="250.5" x2="381.25" y2="250.5" stroke="#222" stroke-width="0.75"/>
<text class="N" x="376.8" y="248.07" font-size="5.3" text-anchor="middle" dominant-baseline="central" fill="#111">ns</text>
<text x="376.8" y="240.5" font-size="5.8" text-anchor="middle" dominant-baseline="central" fill="#111">TLR5</text>
<line x1="385.25" y1="267.5" x2="385.25" y2="269" stroke="#222" stroke-width="0.6"/>
<line x1="390.25" y1="255" x2="390.25" y2="257.25" stroke="#1e1e1e" stroke-width="0.8"/>
<line x1="388.15" y1="255" x2="392.35" y2="255" stroke="#1e1e1e" stroke-width="0.9"/>
<line x1="395.75" y1="177.5" x2="395.75" y2="187.55" stroke="#1e1e1e" stroke-width="0.8"/>
<line x1="393.65" y1="177.5" x2="397.85" y2="177.5" stroke="#1e1e1e" stroke-width="0.9"/>
<rect x="388.2" y="257.7" width="4.1" height="9.8" fill="url(#gBlue)" stroke="#3348ea" stroke-width="0.9"/>
<rect x="393.7" y="188" width="4.1" height="79.5" fill="#fdd5bd" stroke="#fa6464" stroke-width="0.9"/>
<line x1="385.85" y1="175" x2="396.35" y2="175" stroke="#222" stroke-width="0.75"/>
<path d="M389.54 169.32 L390.00 170.20 L390.99 170.16 L390.46 171.00 L390.99 171.84 L390.00 171.80 L389.54 172.68 L389.08 171.80 L388.08 171.84 L388.62 171.00 L388.08 170.16 L389.08 170.20 ZM393.26 169.32 L393.72 170.20 L394.72 170.16 L394.18 171.00 L394.72 171.84 L393.72 171.80 L393.26 172.68 L392.80 171.80 L391.81 171.84 L392.34 171.00 L391.81 170.16 L392.80 170.20 Z" fill="#111" stroke="#111" stroke-width="0.25"/>
<text x="389.8" y="163.2" font-size="5.8" text-anchor="middle" dominant-baseline="central" fill="#111">TLR6</text>
<line x1="400.75" y1="267.5" x2="400.75" y2="269" stroke="#222" stroke-width="0.6"/>
<line x1="405.75" y1="255" x2="405.75" y2="257.25" stroke="#1e1e1e" stroke-width="0.8"/>
<line x1="403.65" y1="255" x2="407.85" y2="255" stroke="#1e1e1e" stroke-width="0.9"/>
<line x1="411.25" y1="187.55" x2="411.25" y2="195.03" stroke="#1e1e1e" stroke-width="0.8"/>
<line x1="409.15" y1="187.55" x2="413.35" y2="187.55" stroke="#1e1e1e" stroke-width="0.9"/>
<rect x="403.7" y="257.7" width="4.1" height="9.8" fill="url(#gBlue)" stroke="#3348ea" stroke-width="0.9"/>
<rect x="409.2" y="195.48" width="4.1" height="72.02" fill="#fdd5bd" stroke="#fa6464" stroke-width="0.9"/>
<line x1="401.35" y1="184.6" x2="411.85" y2="184.6" stroke="#222" stroke-width="0.75"/>
<path d="M405.84 179.72 L406.30 180.60 L407.29 180.56 L406.76 181.40 L407.29 182.24 L406.30 182.20 L405.84 183.08 L405.38 182.20 L404.38 182.24 L404.92 181.40 L404.38 180.56 L405.38 180.60 ZM409.56 179.72 L410.02 180.60 L411.02 180.56 L410.48 181.40 L411.02 182.24 L410.02 182.20 L409.56 183.08 L409.10 182.20 L408.11 182.24 L408.64 181.40 L408.11 180.56 L409.10 180.60 Z" fill="#111" stroke="#111" stroke-width="0.25"/>
<text x="408.8" y="175.4" font-size="5.8" text-anchor="middle" dominant-baseline="central" fill="#111">TLR7</text>
<line x1="416.25" y1="267.5" x2="416.25" y2="269" stroke="#222" stroke-width="0.6"/>
<line x1="421.25" y1="255" x2="421.25" y2="257.25" stroke="#1e1e1e" stroke-width="0.8"/>
<line x1="419.15" y1="255" x2="423.35" y2="255" stroke="#1e1e1e" stroke-width="0.9"/>
<line x1="426.75" y1="175.45" x2="426.75" y2="184.27" stroke="#1e1e1e" stroke-width="0.8"/>
<line x1="424.65" y1="175.45" x2="428.85" y2="175.45" stroke="#1e1e1e" stroke-width="0.9"/>
<rect x="419.2" y="257.7" width="4.1" height="9.8" fill="url(#gBlue)" stroke="#3348ea" stroke-width="0.9"/>
<rect x="424.7" y="184.72" width="4.1" height="82.78" fill="#fdd5bd" stroke="#fa6464" stroke-width="0.9"/>
<line x1="418.25" y1="173.5" x2="428.75" y2="173.5" stroke="#222" stroke-width="0.75"/>
<path d="M419.78 168.82 L420.24 169.70 L421.23 169.66 L420.70 170.50 L421.23 171.34 L420.24 171.30 L419.78 172.18 L419.32 171.30 L418.32 171.34 L418.85 170.50 L418.32 169.66 L419.32 169.70 ZM423.50 168.82 L423.96 169.70 L424.95 169.66 L424.42 170.50 L424.95 171.34 L423.96 171.30 L423.50 172.18 L423.04 171.30 L422.05 171.34 L422.58 170.50 L422.05 169.66 L423.04 169.70 ZM427.22 168.82 L427.68 169.70 L428.68 169.66 L428.15 170.50 L428.68 171.34 L427.68 171.30 L427.22 172.18 L426.76 171.30 L425.77 171.34 L426.30 170.50 L425.77 169.66 L426.76 169.70 Z" fill="#111" stroke="#111" stroke-width="0.25"/>
<text x="423.8" y="164.1" font-size="5.8" text-anchor="middle" dominant-baseline="central" fill="#111">TLR15</text>
<line x1="431.75" y1="267.5" x2="431.75" y2="269" stroke="#222" stroke-width="0.6"/>
<line x1="436.75" y1="255" x2="436.75" y2="257.25" stroke="#1e1e1e" stroke-width="0.8"/>
<line x1="434.65" y1="255" x2="438.85" y2="255" stroke="#1e1e1e" stroke-width="0.9"/>
<line x1="442.25" y1="253.05" x2="442.25" y2="257.05" stroke="#1e1e1e" stroke-width="0.8"/>
<line x1="440.15" y1="253.05" x2="444.35" y2="253.05" stroke="#1e1e1e" stroke-width="0.9"/>
<rect x="434.7" y="257.7" width="4.1" height="9.8" fill="url(#gBlue)" stroke="#3348ea" stroke-width="0.9"/>
<rect x="440.2" y="257.5" width="4.1" height="10.01" fill="#fdd5bd" stroke="#fa6464" stroke-width="0.9"/>
<line x1="433.85" y1="250.5" x2="444.35" y2="250.5" stroke="#222" stroke-width="0.75"/>
<text class="N" x="439.2" y="245.37" font-size="5.3" text-anchor="middle" dominant-baseline="central" fill="#111">ns</text>
<text x="441" y="238.75" font-size="5.8" text-anchor="middle" dominant-baseline="central" fill="#111">TLR21</text>
<text class="T" x="288.5" y="215.95" font-size="5.81" text-anchor="middle" dominant-baseline="central" textLength="88.3" lengthAdjust="spacingAndGlyphs" fill="#111" transform="rotate(-90 288.5 215.95)">Relative mRNA expression of TLRs</text>
<text class="T" x="294.7" y="215" font-size="5.4" text-anchor="middle" dominant-baseline="central" textLength="55.6" lengthAdjust="spacingAndGlyphs" fill="#111" transform="rotate(-90 294.7 215)">in chicken embryo lungs</text>
<text class="L" x="269" y="163.6" font-size="12.3" text-anchor="middle" dominant-baseline="central" fill="#111">b</text>
</g>
<g id="panel-e">
<line x1="40" y1="288.59" x2="40" y2="387.5" stroke="#7a7a7a" stroke-width="1.2"/>
<line x1="39.5" y1="387" x2="165" y2="387" stroke="#222" stroke-width="1"/>
<line x1="38" y1="387" x2="40" y2="387" stroke="#222" stroke-width="0.75"/>
<text x="36.9" y="387" font-size="6.4" text-anchor="end" dominant-baseline="central" fill="#111">0.0</text>
<line x1="38.8" y1="378.83" x2="40" y2="378.83" stroke="#222" stroke-width="0.55"/>
<line x1="38" y1="370.67" x2="40" y2="370.67" stroke="#222" stroke-width="0.75"/>
<text x="36.9" y="370.67" font-size="6.4" text-anchor="end" dominant-baseline="central" fill="#111">0.5</text>
<line x1="38.8" y1="362.5" x2="40" y2="362.5" stroke="#222" stroke-width="0.55"/>
<line x1="38" y1="354.33" x2="40" y2="354.33" stroke="#222" stroke-width="0.75"/>
<text x="36.9" y="354.33" font-size="6.4" text-anchor="end" dominant-baseline="central" fill="#111">1.0</text>
<line x1="38.8" y1="346.16" x2="40" y2="346.16" stroke="#222" stroke-width="0.55"/>
<line x1="38" y1="338" x2="40" y2="338" stroke="#222" stroke-width="0.75"/>
<text x="36.9" y="338" font-size="6.4" text-anchor="end" dominant-baseline="central" fill="#111">1.5</text>
<line x1="38.8" y1="329.83" x2="40" y2="329.83" stroke="#222" stroke-width="0.55"/>
<line x1="38" y1="321.66" x2="40" y2="321.66" stroke="#222" stroke-width="0.75"/>
<text x="36.9" y="321.66" font-size="6.4" text-anchor="end" dominant-baseline="central" fill="#111">2.0</text>
<line x1="38.8" y1="313.49" x2="40" y2="313.49" stroke="#222" stroke-width="0.55"/>
<line x1="38" y1="305.32" x2="40" y2="305.32" stroke="#222" stroke-width="0.75"/>
<text x="36.9" y="305.32" font-size="6.4" text-anchor="end" dominant-baseline="central" fill="#111">2.5</text>
<line x1="38.8" y1="297.16" x2="40" y2="297.16" stroke="#222" stroke-width="0.55"/>
<line x1="38" y1="288.99" x2="40" y2="288.99" stroke="#222" stroke-width="0.75"/>
<text x="36.9" y="288.99" font-size="6.4" text-anchor="end" dominant-baseline="central" fill="#111">3.0</text>
<line x1="49.42" y1="355.64" x2="49.42" y2="358.58" stroke="#1e1e1e" stroke-width="0.8"/>
<line x1="47.39" y1="355.64" x2="51.46" y2="355.64" stroke="#1e1e1e" stroke-width="0.9"/>
<rect x="42.45" y="354.13" width="3.95" height="32.87" fill="url(#gCyan)" stroke="#2b30f4" stroke-width="0.9"/>
<rect x="47.45" y="359.03" width="3.95" height="27.97" fill="url(#gOrange)" stroke="#ff4438" stroke-width="0.9"/>
<line x1="42.68" y1="350.9" x2="52.52" y2="350.9" stroke="#222" stroke-width="0.75"/>
<text class="N" x="47.9" y="347.27" font-size="5.3" text-anchor="middle" dominant-baseline="central" fill="#111">ns</text>
<text x="48.6" y="343.6" font-size="5.6" text-anchor="middle" dominant-baseline="central" fill="#111">TLR1A</text>
<line x1="53.95" y1="387" x2="53.95" y2="388.5" stroke="#222" stroke-width="0.6"/>
<line x1="58.47" y1="347.47" x2="58.47" y2="354.33" stroke="#1e1e1e" stroke-width="0.8"/>
<line x1="56.44" y1="347.47" x2="60.51" y2="347.47" stroke="#1e1e1e" stroke-width="0.9"/>
<line x1="63.47" y1="359.56" x2="63.47" y2="364.46" stroke="#1e1e1e" stroke-width="0.8"/>
<line x1="61.44" y1="359.56" x2="65.51" y2="359.56" stroke="#1e1e1e" stroke-width="0.9"/>
<rect x="56.5" y="354.78" width="3.95" height="32.22" fill="url(#gCyan)" stroke="#2b30f4" stroke-width="0.9"/>
<rect x="61.5" y="364.91" width="3.95" height="22.09" fill="url(#gOrange)" stroke="#ff4438" stroke-width="0.9"/>
<line x1="58.28" y1="345.6" x2="68.12" y2="345.6" stroke="#222" stroke-width="0.75"/>
<text class="N" x="62.1" y="341.47" font-size="5.3" text-anchor="middle" dominant-baseline="central" fill="#111">ns</text>
<text x="62.9" y="336.9" font-size="5.6" text-anchor="middle" dominant-baseline="central" fill="#111">TLR2</text>
<line x1="68" y1="387" x2="68" y2="388.5" stroke="#222" stroke-width="0.6"/>
<line x1="72.52" y1="348.12" x2="72.52" y2="354.33" stroke="#1e1e1e" stroke-width="0.8"/>
<line x1="70.49" y1="348.12" x2="74.56" y2="348.12" stroke="#1e1e1e" stroke-width="0.9"/>
<line x1="77.52" y1="358.58" x2="77.52" y2="362.17" stroke="#1e1e1e" stroke-width="0.8"/>
<line x1="75.49" y1="358.58" x2="79.56" y2="358.58" stroke="#1e1e1e" stroke-width="0.9"/>
<rect x="70.55" y="354.78" width="3.95" height="32.22" fill="url(#gCyan)" stroke="#2b30f4" stroke-width="0.9"/>
<rect x="75.55" y="362.62" width="3.95" height="24.38" fill="url(#gOrange)" stroke="#ff4438" stroke-width="0.9"/>
<line x1="71.88" y1="347.3" x2="81.72" y2="347.3" stroke="#222" stroke-width="0.75"/>
<text class="N" x="76.5" y="344.37" font-size="5.3" text-anchor="middle" dominant-baseline="central" fill="#111">ns</text>
<text x="77.8" y="339.9" font-size="5.6" text-anchor="middle" dominant-baseline="central" fill="#111">TLR3</text>
<line x1="82.05" y1="387" x2="82.05" y2="388.5" stroke="#222" stroke-width="0.6"/>
<line x1="86.58" y1="341.59" x2="86.58" y2="354.33" stroke="#1e1e1e" stroke-width="0.8"/>
<line x1="84.54" y1="341.59" x2="88.61" y2="341.59" stroke="#1e1e1e" stroke-width="0.9"/>
<line x1="91.58" y1="350.41" x2="91.58" y2="356.94" stroke="#1e1e1e" stroke-width="0.8"/>
<line x1="89.54" y1="350.41" x2="93.61" y2="350.41" stroke="#1e1e1e" stroke-width="0.9"/>
<rect x="84.6" y="354.78" width="3.95" height="32.22" fill="url(#gCyan)" stroke="#2b30f4" stroke-width="0.9"/>
<rect x="89.6" y="357.39" width="3.95" height="29.61" fill="url(#gOrange)" stroke="#ff4438" stroke-width="0.9"/>
<line x1="86.48" y1="339.9" x2="96.33" y2="339.9" stroke="#222" stroke-width="0.75"/>
<text class="N" x="91.7" y="335.77" font-size="5.3" text-anchor="middle" dominant-baseline="central" fill="#111">ns</text>
<text x="93.4" y="331.4" font-size="5.6" text-anchor="middle" dominant-baseline="central" fill="#111">TLR4</text>
<line x1="96.1" y1="387" x2="96.1" y2="388.5" stroke="#222" stroke-width="0.6"/>
<line x1="100.62" y1="350.08" x2="100.62" y2="354.33" stroke="#1e1e1e" stroke-width="0.8"/>
<line x1="98.59" y1="350.08" x2="102.66" y2="350.08" stroke="#1e1e1e" stroke-width="0.9"/>
<line x1="105.62" y1="365.11" x2="105.62" y2="369.36" stroke="#1e1e1e" stroke-width="0.8"/>
<line x1="103.59" y1="365.11" x2="107.66" y2="365.11" stroke="#1e1e1e" stroke-width="0.9"/>
<rect x="98.65" y="354.78" width="3.95" height="32.22" fill="url(#gCyan)" stroke="#2b30f4" stroke-width="0.9"/>
<rect x="103.65" y="369.81" width="3.95" height="17.19" fill="url(#gOrange)" stroke="#ff4438" stroke-width="0.9"/>
<line x1="100.53" y1="348" x2="110.38" y2="348" stroke="#222" stroke-width="0.75"/>
<path d="M103.92 343.09 L104.36 343.93 L105.31 343.89 L104.80 344.70 L105.31 345.50 L104.36 345.47 L103.92 346.31 L103.47 345.47 L102.52 345.50 L103.03 344.70 L102.52 343.89 L103.47 343.93 ZM107.48 343.09 L107.93 343.93 L108.88 343.89 L108.37 344.70 L108.88 345.50 L107.93 345.47 L107.48 346.31 L107.04 345.47 L106.09 345.50 L106.60 344.70 L106.09 343.89 L107.04 343.93 Z" fill="#111" stroke="#111" stroke-width="0.25"/>
<text x="106.2" y="339.7" font-size="5.6" text-anchor="middle" dominant-baseline="central" fill="#111">TLR5</text>
<line x1="110.15" y1="387" x2="110.15" y2="388.5" stroke="#222" stroke-width="0.6"/>
<line x1="114.67" y1="344.53" x2="114.67" y2="354.33" stroke="#1e1e1e" stroke-width="0.8"/>
<line x1="112.64" y1="344.53" x2="116.71" y2="344.53" stroke="#1e1e1e" stroke-width="0.9"/>
<line x1="119.67" y1="304.34" x2="119.67" y2="310.88" stroke="#1e1e1e" stroke-width="0.8"/>
<line x1="117.64" y1="304.34" x2="121.71" y2="304.34" stroke="#1e1e1e" stroke-width="0.9"/>
<rect x="112.7" y="354.78" width="3.95" height="32.22" fill="url(#gCyan)" stroke="#2b30f4" stroke-width="0.9"/>
<rect x="117.7" y="311.33" width="3.95" height="75.67" fill="url(#gOrange)" stroke="#ff4438" stroke-width="0.9"/>
<line x1="111.38" y1="301.3" x2="121.22" y2="301.3" stroke="#222" stroke-width="0.75"/>
<path d="M114.52 297.29 L114.96 298.13 L115.91 298.09 L115.40 298.90 L115.91 299.70 L114.96 299.67 L114.52 300.51 L114.07 299.67 L113.12 299.70 L113.63 298.90 L113.12 298.09 L114.07 298.13 ZM118.08 297.29 L118.53 298.13 L119.48 298.09 L118.97 298.90 L119.48 299.70 L118.53 299.67 L118.08 300.51 L117.64 299.67 L116.69 299.70 L117.20 298.90 L116.69 298.09 L117.64 298.13 Z" fill="#111" stroke="#111" stroke-width="0.25"/>
<text x="116.6" y="293.8" font-size="5.6" text-anchor="middle" dominant-baseline="central" fill="#111">TLR6</text>
<line x1="124.2" y1="387" x2="124.2" y2="388.5" stroke="#222" stroke-width="0.6"/>
<line x1="128.73" y1="343.88" x2="128.73" y2="354.33" stroke="#1e1e1e" stroke-width="0.8"/>
<line x1="126.69" y1="343.88" x2="130.76" y2="343.88" stroke="#1e1e1e" stroke-width="0.9"/>
<line x1="133.73" y1="340.94" x2="133.73" y2="352.04" stroke="#1e1e1e" stroke-width="0.8"/>
<line x1="131.69" y1="340.94" x2="135.76" y2="340.94" stroke="#1e1e1e" stroke-width="0.9"/>
<rect x="126.75" y="354.78" width="3.95" height="32.22" fill="url(#gCyan)" stroke="#2b30f4" stroke-width="0.9"/>
<rect x="131.75" y="352.49" width="3.95" height="34.51" fill="url(#gOrange)" stroke="#ff4438" stroke-width="0.9"/>
<line x1="126.08" y1="338.7" x2="135.93" y2="338.7" stroke="#222" stroke-width="0.75"/>
<text class="N" x="131.6" y="334.17" font-size="5.3" text-anchor="middle" dominant-baseline="central" fill="#111">ns</text>
<text x="130.5" y="330.2" font-size="5.6" text-anchor="middle" dominant-baseline="central" fill="#111">TLR7</text>
<line x1="138.25" y1="387" x2="138.25" y2="388.5" stroke="#222" stroke-width="0.6"/>
<line x1="142.78" y1="340.94" x2="142.78" y2="354.33" stroke="#1e1e1e" stroke-width="0.8"/>
<line x1="140.74" y1="340.94" x2="144.81" y2="340.94" stroke="#1e1e1e" stroke-width="0.9"/>
<line x1="147.78" y1="350.08" x2="147.78" y2="351.06" stroke="#1e1e1e" stroke-width="0.8"/>
<line x1="145.74" y1="350.08" x2="149.81" y2="350.08" stroke="#1e1e1e" stroke-width="0.9"/>
<rect x="140.8" y="354.78" width="3.95" height="32.22" fill="url(#gCyan)" stroke="#2b30f4" stroke-width="0.9"/>
<rect x="145.8" y="351.51" width="3.95" height="35.49" fill="url(#gOrange)" stroke="#ff4438" stroke-width="0.9"/>
<line x1="142.88" y1="338.7" x2="152.73" y2="338.7" stroke="#222" stroke-width="0.75"/>
<text class="N" x="147.3" y="334.17" font-size="5.3" text-anchor="middle" dominant-baseline="central" fill="#111">ns</text>
<text x="147.5" y="330.2" font-size="5.6" text-anchor="middle" dominant-baseline="central" fill="#111">TLR15</text>
<line x1="152.3" y1="387" x2="152.3" y2="388.5" stroke="#222" stroke-width="0.6"/>
<line x1="156.83" y1="350.41" x2="156.83" y2="354.33" stroke="#1e1e1e" stroke-width="0.8"/>
<line x1="154.79" y1="350.41" x2="158.86" y2="350.41" stroke="#1e1e1e" stroke-width="0.9"/>
<line x1="161.83" y1="326.89" x2="161.83" y2="333.75" stroke="#1e1e1e" stroke-width="0.8"/>
<line x1="159.79" y1="326.89" x2="163.86" y2="326.89" stroke="#1e1e1e" stroke-width="0.9"/>
<rect x="154.85" y="354.78" width="3.95" height="32.22" fill="url(#gCyan)" stroke="#2b30f4" stroke-width="0.9"/>
<rect x="159.85" y="334.2" width="3.95" height="52.8" fill="url(#gOrange)" stroke="#ff4438" stroke-width="0.9"/>
<line x1="156.07" y1="321.6" x2="165.93" y2="321.6" stroke="#222" stroke-width="0.75"/>
<path d="M160.60 317.49 L161.04 318.33 L161.99 318.30 L161.49 319.10 L161.99 319.91 L161.04 319.87 L160.60 320.71 L160.16 319.87 L159.21 319.91 L159.71 319.10 L159.21 318.30 L160.16 318.33 Z" fill="#111" stroke="#111" stroke-width="0.25"/>
<text x="160.8" y="314.5" font-size="5.6" text-anchor="middle" dominant-baseline="central" fill="#111">TLR21</text>
<text class="T" x="15.7" y="339.4" font-size="5.47" text-anchor="middle" dominant-baseline="central" textLength="65.6" lengthAdjust="spacingAndGlyphs" fill="#111" transform="rotate(-90 15.7 339.4)">Relative expression of TLRs</text>
<text class="T" x="23" y="340.55" font-size="5.9" text-anchor="middle" dominant-baseline="central" textLength="40.1" lengthAdjust="spacingAndGlyphs" fill="#111" transform="rotate(-90 23 340.55)">in chick spleen</text>
<text class="L" x="9.55" y="283.74" font-size="13.8" text-anchor="middle" dominant-baseline="central" fill="#111">e</text>
</g>
<g id="panel-f">
<line x1="211.2" y1="291.2" x2="211.2" y2="393.7" stroke="#222" stroke-width="1"/>
<line x1="210.7" y1="393.2" x2="342.9" y2="393.2" stroke="#222" stroke-width="1"/>
<line x1="209.2" y1="393.2" x2="211.2" y2="393.2" stroke="#222" stroke-width="0.75"/>
<text x="208.7" y="393.2" font-size="5.6" text-anchor="end" dominant-baseline="central" fill="#111">0</text>
<line x1="210" y1="386.85" x2="211.2" y2="386.85" stroke="#222" stroke-width="0.55"/>
<line x1="209.2" y1="380.5" x2="211.2" y2="380.5" stroke="#222" stroke-width="0.75"/>
<text x="208.7" y="380.5" font-size="5.6" text-anchor="end" dominant-baseline="central" fill="#111">1</text>
<line x1="210" y1="374.15" x2="211.2" y2="374.15" stroke="#222" stroke-width="0.55"/>
<line x1="209.2" y1="367.8" x2="211.2" y2="367.8" stroke="#222" stroke-width="0.75"/>
<text x="208.7" y="367.8" font-size="5.6" text-anchor="end" dominant-baseline="central" fill="#111">2</text>
<line x1="210" y1="361.45" x2="211.2" y2="361.45" stroke="#222" stroke-width="0.55"/>
<line x1="209.2" y1="355.1" x2="211.2" y2="355.1" stroke="#222" stroke-width="0.75"/>
<text x="208.7" y="355.1" font-size="5.6" text-anchor="end" dominant-baseline="central" fill="#111">3</text>
<line x1="210" y1="348.75" x2="211.2" y2="348.75" stroke="#222" stroke-width="0.55"/>
<line x1="209.2" y1="342.4" x2="211.2" y2="342.4" stroke="#222" stroke-width="0.75"/>
<text x="208.7" y="342.4" font-size="5.6" text-anchor="end" dominant-baseline="central" fill="#111">4</text>
<line x1="210" y1="336.05" x2="211.2" y2="336.05" stroke="#222" stroke-width="0.55"/>
<line x1="209.2" y1="329.7" x2="211.2" y2="329.7" stroke="#222" stroke-width="0.75"/>
<text x="208.7" y="329.7" font-size="5.6" text-anchor="end" dominant-baseline="central" fill="#111">5</text>
<line x1="210" y1="323.35" x2="211.2" y2="323.35" stroke="#222" stroke-width="0.55"/>
<line x1="209.2" y1="317" x2="211.2" y2="317" stroke="#222" stroke-width="0.75"/>
<text x="208.7" y="317" font-size="5.6" text-anchor="end" dominant-baseline="central" fill="#111">6</text>
<line x1="210" y1="310.65" x2="211.2" y2="310.65" stroke="#222" stroke-width="0.55"/>
<line x1="209.2" y1="304.3" x2="211.2" y2="304.3" stroke="#222" stroke-width="0.75"/>
<text x="208.7" y="304.3" font-size="5.6" text-anchor="end" dominant-baseline="central" fill="#111">7</text>
<line x1="210" y1="297.95" x2="211.2" y2="297.95" stroke="#222" stroke-width="0.55"/>
<line x1="209.2" y1="291.6" x2="211.2" y2="291.6" stroke="#222" stroke-width="0.75"/>
<text x="208.7" y="291.6" font-size="5.6" text-anchor="end" dominant-baseline="central" fill="#111">8</text>
<line x1="217.3" y1="376.18" x2="217.3" y2="380.12" stroke="#1e1e1e" stroke-width="0.8"/>
<line x1="215.37" y1="376.18" x2="219.23" y2="376.18" stroke="#1e1e1e" stroke-width="0.9"/>
<line x1="222.3" y1="368.31" x2="222.3" y2="369.07" stroke="#1e1e1e" stroke-width="0.8"/>
<line x1="220.37" y1="368.31" x2="224.23" y2="368.31" stroke="#1e1e1e" stroke-width="0.9"/>
<rect x="215.45" y="380.57" width="3.7" height="12.63" fill="url(#gCyan)" stroke="#2b30f4" stroke-width="0.9"/>
<rect x="220.45" y="369.52" width="3.7" height="23.68" fill="url(#gOrange)" stroke="#ff4438" stroke-width="0.9"/>
<line x1="213.7" y1="365.7" x2="223.3" y2="365.7" stroke="#222" stroke-width="0.75"/>
<path d="M218.60 360.69 L219.04 361.53 L219.99 361.50 L219.49 362.30 L219.99 363.11 L219.04 363.07 L218.60 363.91 L218.16 363.07 L217.21 363.11 L217.71 362.30 L217.21 361.50 L218.16 361.53 Z" fill="#111" stroke="#111" stroke-width="0.25"/>
<text x="223.2" y="357.8" font-size="5.9" text-anchor="middle" dominant-baseline="central" fill="#111">TLR1A</text>
<line x1="227.07" y1="393.2" x2="227.07" y2="394.7" stroke="#222" stroke-width="0.6"/>
<line x1="231.85" y1="379.23" x2="231.85" y2="380.5" stroke="#1e1e1e" stroke-width="0.8"/>
<line x1="229.92" y1="379.23" x2="233.78" y2="379.23" stroke="#1e1e1e" stroke-width="0.9"/>
<line x1="236.85" y1="347.48" x2="236.85" y2="356.75" stroke="#1e1e1e" stroke-width="0.8"/>
<line x1="234.92" y1="347.48" x2="238.78" y2="347.48" stroke="#1e1e1e" stroke-width="0.9"/>
<rect x="230" y="380.95" width="3.7" height="12.25" fill="url(#gCyan)" stroke="#2b30f4" stroke-width="0.9"/>
<rect x="235" y="357.2" width="3.7" height="36" fill="url(#gOrange)" stroke="#ff4438" stroke-width="0.9"/>
<line x1="228.9" y1="345.5" x2="238.5" y2="345.5" stroke="#222" stroke-width="0.75"/>
<path d="M232.12 339.89 L232.56 340.73 L233.51 340.69 L233.00 341.50 L233.51 342.31 L232.56 342.27 L232.12 343.11 L231.67 342.27 L230.72 342.31 L231.23 341.50 L230.72 340.69 L231.67 340.73 ZM235.69 339.89 L236.13 340.73 L237.08 340.69 L236.57 341.50 L237.08 342.31 L236.13 342.27 L235.69 343.11 L235.24 342.27 L234.29 342.31 L234.80 341.50 L234.29 340.69 L235.24 340.73 Z" fill="#111" stroke="#111" stroke-width="0.25"/>
<text x="233.2" y="336.2" font-size="5.9" text-anchor="middle" dominant-baseline="central" fill="#111">TLR2</text>
<line x1="241.62" y1="393.2" x2="241.62" y2="394.7" stroke="#222" stroke-width="0.6"/>
<line x1="246.4" y1="377.45" x2="246.4" y2="380.5" stroke="#1e1e1e" stroke-width="0.8"/>
<line x1="244.47" y1="377.45" x2="248.33" y2="377.45" stroke="#1e1e1e" stroke-width="0.9"/>
<line x1="251.4" y1="349.51" x2="251.4" y2="358.91" stroke="#1e1e1e" stroke-width="0.8"/>
<line x1="249.47" y1="349.51" x2="253.33" y2="349.51" stroke="#1e1e1e" stroke-width="0.9"/>
<rect x="244.55" y="380.95" width="3.7" height="12.25" fill="url(#gCyan)" stroke="#2b30f4" stroke-width="0.9"/>
<rect x="249.55" y="359.36" width="3.7" height="33.84" fill="url(#gOrange)" stroke="#ff4438" stroke-width="0.9"/>
<line x1="243.3" y1="344.5" x2="252.9" y2="344.5" stroke="#222" stroke-width="0.75"/>
<path d="M247.31 338.89 L247.76 339.73 L248.71 339.69 L248.20 340.50 L248.71 341.31 L247.76 341.27 L247.31 342.11 L246.87 341.27 L245.92 341.31 L246.43 340.50 L245.92 339.69 L246.87 339.73 ZM250.88 338.89 L251.33 339.73 L252.28 339.69 L251.77 340.50 L252.28 341.31 L251.33 341.27 L250.88 342.11 L250.44 341.27 L249.49 341.31 L250.00 340.50 L249.49 339.69 L250.44 339.73 Z" fill="#111" stroke="#111" stroke-width="0.25"/>
<text x="250" y="333.9" font-size="5.9" text-anchor="middle" dominant-baseline="central" fill="#111">TLR3</text>
<line x1="256.18" y1="393.2" x2="256.18" y2="394.7" stroke="#222" stroke-width="0.6"/>
<line x1="260.95" y1="372.37" x2="260.95" y2="380.5" stroke="#1e1e1e" stroke-width="0.8"/>
<line x1="259.02" y1="372.37" x2="262.88" y2="372.37" stroke="#1e1e1e" stroke-width="0.9"/>
<line x1="265.95" y1="324.49" x2="265.95" y2="332.88" stroke="#1e1e1e" stroke-width="0.8"/>
<line x1="264.02" y1="324.49" x2="267.88" y2="324.49" stroke="#1e1e1e" stroke-width="0.9"/>
<rect x="259.1" y="380.95" width="3.7" height="12.25" fill="url(#gCyan)" stroke="#2b30f4" stroke-width="0.9"/>
<rect x="264.1" y="333.32" width="3.7" height="59.87" fill="url(#gOrange)" stroke="#ff4438" stroke-width="0.9"/>
<line x1="258.6" y1="322" x2="268.2" y2="322" stroke="#222" stroke-width="0.75"/>
<path d="M260.13 316.89 L260.57 317.73 L261.52 317.69 L261.02 318.50 L261.52 319.31 L260.57 319.27 L260.13 320.11 L259.69 319.27 L258.74 319.31 L259.24 318.50 L258.74 317.69 L259.69 317.73 ZM263.70 316.89 L264.14 317.73 L265.09 317.69 L264.59 318.50 L265.09 319.31 L264.14 319.27 L263.70 320.11 L263.26 319.27 L262.31 319.31 L262.81 318.50 L262.31 317.69 L263.26 317.73 ZM267.27 316.89 L267.71 317.73 L268.66 317.69 L268.16 318.50 L268.66 319.31 L267.71 319.27 L267.27 320.11 L266.83 319.27 L265.88 319.31 L266.38 318.50 L265.88 317.69 L266.83 317.73 Z" fill="#111" stroke="#111" stroke-width="0.25"/>
<text x="263.7" y="313.2" font-size="5.9" text-anchor="middle" dominant-baseline="central" fill="#111">TLR4</text>
<line x1="270.73" y1="393.2" x2="270.73" y2="394.7" stroke="#222" stroke-width="0.6"/>
<line x1="275.5" y1="377.45" x2="275.5" y2="380.5" stroke="#1e1e1e" stroke-width="0.8"/>
<line x1="273.57" y1="377.45" x2="277.43" y2="377.45" stroke="#1e1e1e" stroke-width="0.9"/>
<line x1="280.5" y1="354.59" x2="280.5" y2="360.81" stroke="#1e1e1e" stroke-width="0.8"/>
<line x1="278.57" y1="354.59" x2="282.43" y2="354.59" stroke="#1e1e1e" stroke-width="0.9"/>
<rect x="273.65" y="380.95" width="3.7" height="12.25" fill="url(#gCyan)" stroke="#2b30f4" stroke-width="0.9"/>
<rect x="278.65" y="361.26" width="3.7" height="31.93" fill="url(#gOrange)" stroke="#ff4438" stroke-width="0.9"/>
<line x1="271.8" y1="352.7" x2="281.4" y2="352.7" stroke="#222" stroke-width="0.75"/>
<path d="M274.81 346.99 L275.26 347.83 L276.21 347.80 L275.70 348.60 L276.21 349.41 L275.26 349.37 L274.81 350.21 L274.37 349.37 L273.42 349.41 L273.93 348.60 L273.42 347.80 L274.37 347.83 ZM278.39 346.99 L278.83 347.83 L279.78 347.80 L279.27 348.60 L279.78 349.41 L278.83 349.37 L278.39 350.21 L277.94 349.37 L276.99 349.41 L277.50 348.60 L276.99 347.80 L277.94 347.83 Z" fill="#111" stroke="#111" stroke-width="0.25"/>
<text x="278" y="342.9" font-size="5.9" text-anchor="middle" dominant-baseline="central" fill="#111">TLR5</text>
<line x1="285.28" y1="393.2" x2="285.28" y2="394.7" stroke="#222" stroke-width="0.6"/>
<line x1="290.05" y1="373.64" x2="290.05" y2="380.5" stroke="#1e1e1e" stroke-width="0.8"/>
<line x1="288.12" y1="373.64" x2="291.98" y2="373.64" stroke="#1e1e1e" stroke-width="0.9"/>
<line x1="295.05" y1="306.71" x2="295.05" y2="328.94" stroke="#1e1e1e" stroke-width="0.8"/>
<line x1="293.12" y1="306.71" x2="296.98" y2="306.71" stroke="#1e1e1e" stroke-width="0.9"/>
<rect x="288.2" y="380.95" width="3.7" height="12.25" fill="url(#gCyan)" stroke="#2b30f4" stroke-width="0.9"/>
<rect x="293.2" y="329.39" width="3.7" height="63.81" fill="url(#gOrange)" stroke="#ff4438" stroke-width="0.9"/>
<line x1="285.5" y1="304.3" x2="295.1" y2="304.3" stroke="#222" stroke-width="0.75"/>
<path d="M288.71 299.79 L289.16 300.63 L290.11 300.59 L289.60 301.40 L290.11 302.20 L289.16 302.17 L288.71 303.01 L288.27 302.17 L287.32 302.20 L287.83 301.40 L287.32 300.59 L288.27 300.63 ZM292.29 299.79 L292.73 300.63 L293.68 300.59 L293.17 301.40 L293.68 302.20 L292.73 302.17 L292.29 303.01 L291.84 302.17 L290.89 302.20 L291.40 301.40 L290.89 300.59 L291.84 300.63 Z" fill="#111" stroke="#111" stroke-width="0.25"/>
<text x="291" y="296.2" font-size="5.9" text-anchor="middle" dominant-baseline="central" fill="#111">TLR6</text>
<line x1="299.83" y1="393.2" x2="299.83" y2="394.7" stroke="#222" stroke-width="0.6"/>
<line x1="304.6" y1="375.42" x2="304.6" y2="380.5" stroke="#1e1e1e" stroke-width="0.8"/>
<line x1="302.67" y1="375.42" x2="306.53" y2="375.42" stroke="#1e1e1e" stroke-width="0.9"/>
<line x1="309.6" y1="353.83" x2="309.6" y2="356.75" stroke="#1e1e1e" stroke-width="0.8"/>
<line x1="307.67" y1="353.83" x2="311.53" y2="353.83" stroke="#1e1e1e" stroke-width="0.9"/>
<rect x="302.75" y="380.95" width="3.7" height="12.25" fill="url(#gCyan)" stroke="#2b30f4" stroke-width="0.9"/>
<rect x="307.75" y="357.2" width="3.7" height="36" fill="url(#gOrange)" stroke="#ff4438" stroke-width="0.9"/>
<line x1="300.7" y1="351.5" x2="310.3" y2="351.5" stroke="#222" stroke-width="0.75"/>
<path d="M302.13 345.19 L302.57 346.03 L303.52 346.00 L303.02 346.80 L303.52 347.61 L302.57 347.57 L302.13 348.41 L301.69 347.57 L300.74 347.61 L301.24 346.80 L300.74 346.00 L301.69 346.03 ZM305.70 345.19 L306.14 346.03 L307.09 346.00 L306.59 346.80 L307.09 347.61 L306.14 347.57 L305.70 348.41 L305.26 347.57 L304.31 347.61 L304.81 346.80 L304.31 346.00 L305.26 346.03 ZM309.27 345.19 L309.71 346.03 L310.66 346.00 L310.16 346.80 L310.66 347.61 L309.71 347.57 L309.27 348.41 L308.83 347.57 L307.88 347.61 L308.38 346.80 L307.88 346.00 L308.83 346.03 Z" fill="#111" stroke="#111" stroke-width="0.25"/>
<text x="307.5" y="340.6" font-size="5.9" text-anchor="middle" dominant-baseline="central" fill="#111">TLR7</text>
<line x1="314.38" y1="393.2" x2="314.38" y2="394.7" stroke="#222" stroke-width="0.6"/>
<line x1="319.15" y1="375.42" x2="319.15" y2="380.5" stroke="#1e1e1e" stroke-width="0.8"/>
<line x1="317.22" y1="375.42" x2="321.08" y2="375.42" stroke="#1e1e1e" stroke-width="0.9"/>
<line x1="324.15" y1="377.2" x2="324.15" y2="381.26" stroke="#1e1e1e" stroke-width="0.8"/>
<line x1="322.22" y1="377.2" x2="326.08" y2="377.2" stroke="#1e1e1e" stroke-width="0.9"/>
<rect x="317.3" y="380.95" width="3.7" height="12.25" fill="url(#gCyan)" stroke="#2b30f4" stroke-width="0.9"/>
<rect x="322.3" y="381.71" width="3.7" height="11.49" fill="url(#gOrange)" stroke="#ff4438" stroke-width="0.9"/>
<line x1="314.85" y1="373.1" x2="324.45" y2="373.1" stroke="#222" stroke-width="0.75"/>
<text class="N" x="319.5" y="369.47" font-size="5.3" text-anchor="middle" dominant-baseline="central" fill="#111">ns</text>
<text x="320.7" y="365.3" font-size="5.9" text-anchor="middle" dominant-baseline="central" fill="#111">TLR15</text>
<line x1="328.93" y1="393.2" x2="328.93" y2="394.7" stroke="#222" stroke-width="0.6"/>
<line x1="333.7" y1="377.2" x2="333.7" y2="380.5" stroke="#1e1e1e" stroke-width="0.8"/>
<line x1="331.77" y1="377.2" x2="335.63" y2="377.2" stroke="#1e1e1e" stroke-width="0.9"/>
<line x1="338.7" y1="375.42" x2="338.7" y2="376.18" stroke="#1e1e1e" stroke-width="0.8"/>
<line x1="336.77" y1="375.42" x2="340.63" y2="375.42" stroke="#1e1e1e" stroke-width="0.9"/>
<rect x="331.85" y="380.95" width="3.7" height="12.25" fill="url(#gCyan)" stroke="#2b30f4" stroke-width="0.9"/>
<rect x="336.85" y="376.63" width="3.7" height="16.57" fill="url(#gOrange)" stroke="#ff4438" stroke-width="0.9"/>
<line x1="330.6" y1="372.2" x2="340.2" y2="372.2" stroke="#222" stroke-width="0.75"/>
<text class="N" x="335.4" y="367.87" font-size="5.3" text-anchor="middle" dominant-baseline="central" fill="#111">ns</text>
<text x="336.2" y="361" font-size="5.9" text-anchor="middle" dominant-baseline="central" fill="#111">TLR21</text>
<text class="T" x="193.2" y="340.55" font-size="5.4" text-anchor="middle" dominant-baseline="central" textLength="63.3" lengthAdjust="spacingAndGlyphs" fill="#111" transform="rotate(-90 193.2 340.55)">Relative expression of TLRs</text>
<text class="T" x="200.4" y="340.95" font-size="5.4" text-anchor="middle" dominant-baseline="central" textLength="40.9" lengthAdjust="spacingAndGlyphs" fill="#111" transform="rotate(-90 200.4 340.95)">in chicken thymus</text>
<text class="L" x="176.6" y="283.5" font-size="13.8" text-anchor="middle" dominant-baseline="central" fill="#111">f</text>
</g>
<g id="panel-g">
<line x1="388.9" y1="289.4" x2="388.9" y2="386.9" stroke="#222" stroke-width="1"/>
<line x1="388.4" y1="386.4" x2="516.3" y2="386.4" stroke="#222" stroke-width="1"/>
<line x1="386.9" y1="386.4" x2="388.9" y2="386.4" stroke="#222" stroke-width="0.75"/>
<text x="386.4" y="386.4" font-size="5.6" text-anchor="end" dominant-baseline="central" fill="#111">0</text>
<line x1="387.7" y1="379.5" x2="388.9" y2="379.5" stroke="#222" stroke-width="0.55"/>
<line x1="386.9" y1="372.6" x2="388.9" y2="372.6" stroke="#222" stroke-width="0.75"/>
<text x="386.4" y="372.6" font-size="5.6" text-anchor="end" dominant-baseline="central" fill="#111">1</text>
<line x1="387.7" y1="365.7" x2="388.9" y2="365.7" stroke="#222" stroke-width="0.55"/>
<line x1="386.9" y1="358.8" x2="388.9" y2="358.8" stroke="#222" stroke-width="0.75"/>
<text x="386.4" y="358.8" font-size="5.6" text-anchor="end" dominant-baseline="central" fill="#111">2</text>
<line x1="387.7" y1="351.9" x2="388.9" y2="351.9" stroke="#222" stroke-width="0.55"/>
<line x1="386.9" y1="345" x2="388.9" y2="345" stroke="#222" stroke-width="0.75"/>
<text x="386.4" y="345" font-size="5.6" text-anchor="end" dominant-baseline="central" fill="#111">3</text>
<line x1="387.7" y1="338.1" x2="388.9" y2="338.1" stroke="#222" stroke-width="0.55"/>
<line x1="386.9" y1="331.2" x2="388.9" y2="331.2" stroke="#222" stroke-width="0.75"/>
<text x="386.4" y="331.2" font-size="5.6" text-anchor="end" dominant-baseline="central" fill="#111">4</text>
<line x1="387.7" y1="324.3" x2="388.9" y2="324.3" stroke="#222" stroke-width="0.55"/>
<line x1="386.9" y1="317.4" x2="388.9" y2="317.4" stroke="#222" stroke-width="0.75"/>
<text x="386.4" y="317.4" font-size="5.6" text-anchor="end" dominant-baseline="central" fill="#111">5</text>
<line x1="387.7" y1="310.5" x2="388.9" y2="310.5" stroke="#222" stroke-width="0.55"/>
<line x1="386.9" y1="303.6" x2="388.9" y2="303.6" stroke="#222" stroke-width="0.75"/>
<text x="386.4" y="303.6" font-size="5.6" text-anchor="end" dominant-baseline="central" fill="#111">6</text>
<line x1="387.7" y1="296.7" x2="388.9" y2="296.7" stroke="#222" stroke-width="0.55"/>
<line x1="386.9" y1="289.8" x2="388.9" y2="289.8" stroke="#222" stroke-width="0.75"/>
<text x="386.4" y="289.8" font-size="5.6" text-anchor="end" dominant-baseline="central" fill="#111">7</text>
<rect x="390.95" y="373.05" width="3.5" height="13.35" fill="url(#gCyan)" stroke="#2b30f4" stroke-width="0.9"/>
<rect x="395.95" y="373.05" width="3.5" height="13.35" fill="url(#gOrange)" stroke="#ff4438" stroke-width="0.9"/>
<line x1="390.1" y1="370.3" x2="399.5" y2="370.3" stroke="#222" stroke-width="0.75"/>
<text class="N" x="396" y="367.57" font-size="5.3" text-anchor="middle" dominant-baseline="central" fill="#111">ns</text>
<text x="398.6" y="362.1" font-size="5.2" text-anchor="middle" dominant-baseline="central" fill="#111">TLR1A</text>
<line x1="402.3" y1="386.4" x2="402.3" y2="387.9" stroke="#222" stroke-width="0.6"/>
<line x1="406.9" y1="366.53" x2="406.9" y2="372.6" stroke="#1e1e1e" stroke-width="0.8"/>
<line x1="405.05" y1="366.53" x2="408.75" y2="366.53" stroke="#1e1e1e" stroke-width="0.9"/>
<line x1="411.9" y1="360.18" x2="411.9" y2="367.08" stroke="#1e1e1e" stroke-width="0.8"/>
<line x1="410.05" y1="360.18" x2="413.75" y2="360.18" stroke="#1e1e1e" stroke-width="0.9"/>
<rect x="405.15" y="373.05" width="3.5" height="13.35" fill="url(#gCyan)" stroke="#2b30f4" stroke-width="0.9"/>
<rect x="410.15" y="367.53" width="3.5" height="18.87" fill="url(#gOrange)" stroke="#ff4438" stroke-width="0.9"/>
<line x1="403.9" y1="357.5" x2="413.3" y2="357.5" stroke="#222" stroke-width="0.75"/>
<text class="N" x="409.2" y="354.57" font-size="5.3" text-anchor="middle" dominant-baseline="central" fill="#111">ns</text>
<text x="408.4" y="350.2" font-size="5.2" text-anchor="middle" dominant-baseline="central" fill="#111">TLR2</text>
<line x1="416.5" y1="386.4" x2="416.5" y2="387.9" stroke="#222" stroke-width="0.6"/>
<line x1="421.1" y1="369.56" x2="421.1" y2="372.6" stroke="#1e1e1e" stroke-width="0.8"/>
<line x1="419.25" y1="369.56" x2="422.95" y2="369.56" stroke="#1e1e1e" stroke-width="0.9"/>
<line x1="426.1" y1="354.66" x2="426.1" y2="363.22" stroke="#1e1e1e" stroke-width="0.8"/>
<line x1="424.25" y1="354.66" x2="427.95" y2="354.66" stroke="#1e1e1e" stroke-width="0.9"/>
<rect x="419.35" y="373.05" width="3.5" height="13.35" fill="url(#gCyan)" stroke="#2b30f4" stroke-width="0.9"/>
<rect x="424.35" y="363.67" width="3.5" height="22.73" fill="url(#gOrange)" stroke="#ff4438" stroke-width="0.9"/>
<line x1="418.3" y1="353.1" x2="427.7" y2="353.1" stroke="#222" stroke-width="0.75"/>
<text class="N" x="423.1" y="348.97" font-size="5.3" text-anchor="middle" dominant-baseline="central" fill="#111">ns</text>
<text x="423.6" y="344.5" font-size="5.2" text-anchor="middle" dominant-baseline="central" fill="#111">TLR3</text>
<line x1="430.7" y1="386.4" x2="430.7" y2="387.9" stroke="#222" stroke-width="0.6"/>
<line x1="435.3" y1="366.67" x2="435.3" y2="372.6" stroke="#1e1e1e" stroke-width="0.8"/>
<line x1="433.45" y1="366.67" x2="437.15" y2="366.67" stroke="#1e1e1e" stroke-width="0.9"/>
<line x1="440.3" y1="333.55" x2="440.3" y2="347.48" stroke="#1e1e1e" stroke-width="0.8"/>
<line x1="438.45" y1="333.55" x2="442.15" y2="333.55" stroke="#1e1e1e" stroke-width="0.9"/>
<rect x="433.55" y="373.05" width="3.5" height="13.35" fill="url(#gCyan)" stroke="#2b30f4" stroke-width="0.9"/>
<rect x="438.55" y="347.93" width="3.5" height="38.47" fill="url(#gOrange)" stroke="#ff4438" stroke-width="0.9"/>
<line x1="434.1" y1="330.6" x2="443.5" y2="330.6" stroke="#222" stroke-width="0.75"/>
<path d="M438.80 325.59 L439.24 326.43 L440.19 326.39 L439.69 327.20 L440.19 328.00 L439.24 327.97 L438.80 328.81 L438.36 327.97 L437.41 328.00 L437.91 327.20 L437.41 326.39 L438.36 326.43 Z" fill="#111" stroke="#111" stroke-width="0.25"/>
<text x="438.7" y="321.7" font-size="5.2" text-anchor="middle" dominant-baseline="central" fill="#111">TLR4</text>
<line x1="444.9" y1="386.4" x2="444.9" y2="387.9" stroke="#222" stroke-width="0.6"/>
<line x1="449.5" y1="367.91" x2="449.5" y2="369.7" stroke="#1e1e1e" stroke-width="0.8"/>
<line x1="447.65" y1="367.91" x2="451.35" y2="367.91" stroke="#1e1e1e" stroke-width="0.9"/>
<line x1="454.5" y1="360.18" x2="454.5" y2="367.91" stroke="#1e1e1e" stroke-width="0.8"/>
<line x1="452.65" y1="360.18" x2="456.35" y2="360.18" stroke="#1e1e1e" stroke-width="0.9"/>
<rect x="447.75" y="370.15" width="3.5" height="16.25" fill="url(#gCyan)" stroke="#2b30f4" stroke-width="0.9"/>
<rect x="452.75" y="368.36" width="3.5" height="18.04" fill="url(#gOrange)" stroke="#ff4438" stroke-width="0.9"/>
<line x1="446.8" y1="357.8" x2="456.2" y2="357.8" stroke="#222" stroke-width="0.75"/>
<text class="N" x="451.9" y="354.47" font-size="5.3" text-anchor="middle" dominant-baseline="central" fill="#111">ns</text>
<text x="452.3" y="347.9" font-size="5.2" text-anchor="middle" dominant-baseline="central" fill="#111">TLR5</text>
<line x1="459.1" y1="386.4" x2="459.1" y2="387.9" stroke="#222" stroke-width="0.6"/>
<line x1="463.7" y1="369.15" x2="463.7" y2="372.6" stroke="#1e1e1e" stroke-width="0.8"/>
<line x1="461.85" y1="369.15" x2="465.55" y2="369.15" stroke="#1e1e1e" stroke-width="0.9"/>
<line x1="468.7" y1="301.12" x2="468.7" y2="312.29" stroke="#1e1e1e" stroke-width="0.8"/>
<line x1="466.85" y1="301.12" x2="470.55" y2="301.12" stroke="#1e1e1e" stroke-width="0.9"/>
<rect x="461.95" y="373.05" width="3.5" height="13.35" fill="url(#gCyan)" stroke="#2b30f4" stroke-width="0.9"/>
<rect x="466.95" y="312.74" width="3.5" height="73.66" fill="url(#gOrange)" stroke="#ff4438" stroke-width="0.9"/>
<line x1="460.5" y1="297.6" x2="469.9" y2="297.6" stroke="#222" stroke-width="0.75"/>
<path d="M460.93 292.79 L461.37 293.63 L462.32 293.59 L461.82 294.40 L462.32 295.20 L461.37 295.17 L460.93 296.01 L460.49 295.17 L459.54 295.20 L460.04 294.40 L459.54 293.59 L460.49 293.63 ZM464.50 292.79 L464.94 293.63 L465.89 293.59 L465.39 294.40 L465.89 295.20 L464.94 295.17 L464.50 296.01 L464.06 295.17 L463.11 295.20 L463.61 294.40 L463.11 293.59 L464.06 293.63 ZM468.07 292.79 L468.51 293.63 L469.46 293.59 L468.96 294.40 L469.46 295.20 L468.51 295.17 L468.07 296.01 L467.63 295.17 L466.68 295.20 L467.18 294.40 L466.68 293.59 L467.63 293.63 Z" fill="#111" stroke="#111" stroke-width="0.25"/>
<text x="465.6" y="289.3" font-size="5.2" text-anchor="middle" dominant-baseline="central" fill="#111">TLR6</text>
<line x1="473.3" y1="386.4" x2="473.3" y2="387.9" stroke="#222" stroke-width="0.6"/>
<line x1="477.9" y1="369.15" x2="477.9" y2="372.6" stroke="#1e1e1e" stroke-width="0.8"/>
<line x1="476.05" y1="369.15" x2="479.75" y2="369.15" stroke="#1e1e1e" stroke-width="0.9"/>
<line x1="482.9" y1="302.36" x2="482.9" y2="322.92" stroke="#1e1e1e" stroke-width="0.8"/>
<line x1="481.05" y1="302.36" x2="484.75" y2="302.36" stroke="#1e1e1e" stroke-width="0.9"/>
<rect x="476.15" y="373.05" width="3.5" height="13.35" fill="url(#gCyan)" stroke="#2b30f4" stroke-width="0.9"/>
<rect x="481.15" y="323.37" width="3.5" height="63.03" fill="url(#gOrange)" stroke="#ff4438" stroke-width="0.9"/>
<line x1="476.1" y1="299.6" x2="485.5" y2="299.6" stroke="#222" stroke-width="0.75"/>
<path d="M479.01 294.39 L479.46 295.23 L480.41 295.19 L479.90 296.00 L480.41 296.81 L479.46 296.77 L479.01 297.61 L478.57 296.77 L477.62 296.81 L478.13 296.00 L477.62 295.19 L478.57 295.23 ZM482.59 294.39 L483.03 295.23 L483.98 295.19 L483.47 296.00 L483.98 296.81 L483.03 296.77 L482.59 297.61 L482.14 296.77 L481.19 296.81 L481.70 296.00 L481.19 295.19 L482.14 295.23 Z" fill="#111" stroke="#111" stroke-width="0.25"/>
<text x="482.2" y="290.1" font-size="5.2" text-anchor="middle" dominant-baseline="central" fill="#111">TLR7</text>
<line x1="487.5" y1="386.4" x2="487.5" y2="387.9" stroke="#222" stroke-width="0.6"/>
<line x1="492.1" y1="366.67" x2="492.1" y2="372.6" stroke="#1e1e1e" stroke-width="0.8"/>
<line x1="490.25" y1="366.67" x2="493.95" y2="366.67" stroke="#1e1e1e" stroke-width="0.9"/>
<line x1="497.1" y1="370.39" x2="497.1" y2="373.01" stroke="#1e1e1e" stroke-width="0.8"/>
<line x1="495.25" y1="370.39" x2="498.95" y2="370.39" stroke="#1e1e1e" stroke-width="0.9"/>
<rect x="490.35" y="373.05" width="3.5" height="13.35" fill="url(#gCyan)" stroke="#2b30f4" stroke-width="0.9"/>
<rect x="495.35" y="373.46" width="3.5" height="12.94" fill="url(#gOrange)" stroke="#ff4438" stroke-width="0.9"/>
<line x1="490.7" y1="363.4" x2="500.1" y2="363.4" stroke="#222" stroke-width="0.75"/>
<text class="N" x="496.2" y="359.67" font-size="5.3" text-anchor="middle" dominant-baseline="central" fill="#111">ns</text>
<text x="496.2" y="354.5" font-size="5.2" text-anchor="middle" dominant-baseline="central" fill="#111">TLR15</text>
<line x1="501.7" y1="386.4" x2="501.7" y2="387.9" stroke="#222" stroke-width="0.6"/>
<line x1="506.3" y1="370.39" x2="506.3" y2="372.6" stroke="#1e1e1e" stroke-width="0.8"/>
<line x1="504.45" y1="370.39" x2="508.15" y2="370.39" stroke="#1e1e1e" stroke-width="0.9"/>
<line x1="511.3" y1="350.8" x2="511.3" y2="358.52" stroke="#1e1e1e" stroke-width="0.8"/>
<line x1="509.45" y1="350.8" x2="513.15" y2="350.8" stroke="#1e1e1e" stroke-width="0.9"/>
<rect x="504.55" y="373.05" width="3.5" height="13.35" fill="url(#gCyan)" stroke="#2b30f4" stroke-width="0.9"/>
<rect x="509.55" y="358.97" width="3.5" height="27.43" fill="url(#gOrange)" stroke="#ff4438" stroke-width="0.9"/>
<line x1="503.1" y1="347.6" x2="512.5" y2="347.6" stroke="#222" stroke-width="0.75"/>
<path d="M507.70 342.29 L508.14 343.13 L509.09 343.09 L508.59 343.90 L509.09 344.70 L508.14 344.67 L507.70 345.51 L507.26 344.67 L506.31 344.70 L506.81 343.90 L506.31 343.09 L507.26 343.13 Z" fill="#111" stroke="#111" stroke-width="0.25"/>
<text x="509.3" y="338.7" font-size="5.2" text-anchor="middle" dominant-baseline="central" fill="#111">TLR21</text>
<text class="T" x="368.5" y="340" font-size="5.4" text-anchor="middle" dominant-baseline="central" textLength="64.8" lengthAdjust="spacingAndGlyphs" fill="#111" transform="rotate(-90 368.5 340)">Relative expression of TLRs</text>
<text class="T" x="377" y="335.2" font-size="5.9" text-anchor="middle" dominant-baseline="central" textLength="76" lengthAdjust="spacingAndGlyphs" fill="#111" transform="rotate(-90 377 335.2)">in bursa of fabricius of chicks</text>
<text class="L" x="344.1" y="283.6" font-size="13.8" text-anchor="middle" dominant-baseline="central" fill="#111">g</text>
</g>
<g id="panel-h">
<line x1="47.6" y1="442.6" x2="47.6" y2="540.3" stroke="#222" stroke-width="1"/>
<line x1="47.1" y1="539.8" x2="172.1" y2="539.8" stroke="#222" stroke-width="1"/>
<line x1="45.6" y1="539.8" x2="47.6" y2="539.8" stroke="#222" stroke-width="0.75"/>
<text x="44.7" y="539.8" font-size="6" text-anchor="end" dominant-baseline="central" fill="#111">0.0</text>
<line x1="46.4" y1="533.75" x2="47.6" y2="533.75" stroke="#222" stroke-width="0.55"/>
<line x1="45.6" y1="527.7" x2="47.6" y2="527.7" stroke="#222" stroke-width="0.75"/>
<text x="44.7" y="527.7" font-size="6" text-anchor="end" dominant-baseline="central" fill="#111">0.5</text>
<line x1="46.4" y1="521.65" x2="47.6" y2="521.65" stroke="#222" stroke-width="0.55"/>
<line x1="45.6" y1="515.6" x2="47.6" y2="515.6" stroke="#222" stroke-width="0.75"/>
<text x="44.7" y="515.6" font-size="6" text-anchor="end" dominant-baseline="central" fill="#111">1.0</text>
<line x1="46.4" y1="509.55" x2="47.6" y2="509.55" stroke="#222" stroke-width="0.55"/>
<line x1="45.6" y1="503.5" x2="47.6" y2="503.5" stroke="#222" stroke-width="0.75"/>
<text x="44.7" y="503.5" font-size="6" text-anchor="end" dominant-baseline="central" fill="#111">1.5</text>
<line x1="46.4" y1="497.45" x2="47.6" y2="497.45" stroke="#222" stroke-width="0.55"/>
<line x1="45.6" y1="491.4" x2="47.6" y2="491.4" stroke="#222" stroke-width="0.75"/>
<text x="44.7" y="491.4" font-size="6" text-anchor="end" dominant-baseline="central" fill="#111">2.0</text>
<line x1="46.4" y1="485.35" x2="47.6" y2="485.35" stroke="#222" stroke-width="0.55"/>
<line x1="45.6" y1="479.3" x2="47.6" y2="479.3" stroke="#222" stroke-width="0.75"/>
<text x="44.7" y="479.3" font-size="6" text-anchor="end" dominant-baseline="central" fill="#111">2.5</text>
<line x1="46.4" y1="473.25" x2="47.6" y2="473.25" stroke="#222" stroke-width="0.55"/>
<line x1="45.6" y1="467.2" x2="47.6" y2="467.2" stroke="#222" stroke-width="0.75"/>
<text x="44.7" y="467.2" font-size="6" text-anchor="end" dominant-baseline="central" fill="#111">3.0</text>
<line x1="46.4" y1="461.15" x2="47.6" y2="461.15" stroke="#222" stroke-width="0.55"/>
<line x1="45.6" y1="455.1" x2="47.6" y2="455.1" stroke="#222" stroke-width="0.75"/>
<text x="44.7" y="455.1" font-size="6" text-anchor="end" dominant-baseline="central" fill="#111">3.5</text>
<line x1="46.4" y1="449.05" x2="47.6" y2="449.05" stroke="#222" stroke-width="0.55"/>
<line x1="45.6" y1="443" x2="47.6" y2="443" stroke="#222" stroke-width="0.75"/>
<text x="44.7" y="443" font-size="6" text-anchor="end" dominant-baseline="central" fill="#111">4.0</text>
<line x1="52.9" y1="513.66" x2="52.9" y2="514.87" stroke="#1e1e1e" stroke-width="0.8"/>
<line x1="51.22" y1="513.66" x2="54.58" y2="513.66" stroke="#1e1e1e" stroke-width="0.9"/>
<line x1="57.5" y1="489.46" x2="57.5" y2="495.27" stroke="#1e1e1e" stroke-width="0.8"/>
<line x1="55.82" y1="489.46" x2="59.18" y2="489.46" stroke="#1e1e1e" stroke-width="0.9"/>
<rect x="51.35" y="515.32" width="3.1" height="24.48" fill="url(#gCyan)" stroke="#2b30f4" stroke-width="0.9"/>
<rect x="55.95" y="495.72" width="3.1" height="44.08" fill="url(#gOrange)" stroke="#ff4438" stroke-width="0.9"/>
<line x1="51.7" y1="487.2" x2="60.3" y2="487.2" stroke="#222" stroke-width="0.75"/>
<path d="M54.92 482.29 L55.36 483.13 L56.31 483.09 L55.80 483.90 L56.31 484.70 L55.36 484.67 L54.92 485.51 L54.47 484.67 L53.52 484.70 L54.03 483.90 L53.52 483.09 L54.47 483.13 ZM58.48 482.29 L58.93 483.13 L59.88 483.09 L59.37 483.90 L59.88 484.70 L58.93 484.67 L58.48 485.51 L58.04 484.67 L57.09 484.70 L57.60 483.90 L57.09 483.09 L58.04 483.13 Z" fill="#111" stroke="#111" stroke-width="0.25"/>
<text x="59.3" y="479" font-size="5.4" text-anchor="middle" dominant-baseline="central" fill="#111">TLR1A</text>
<line x1="62.08" y1="539.8" x2="62.08" y2="541.3" stroke="#222" stroke-width="0.6"/>
<line x1="66.65" y1="511.73" x2="66.65" y2="515.6" stroke="#1e1e1e" stroke-width="0.8"/>
<line x1="64.97" y1="511.73" x2="68.33" y2="511.73" stroke="#1e1e1e" stroke-width="0.9"/>
<line x1="71.25" y1="500.35" x2="71.25" y2="505.44" stroke="#1e1e1e" stroke-width="0.8"/>
<line x1="69.57" y1="500.35" x2="72.93" y2="500.35" stroke="#1e1e1e" stroke-width="0.9"/>
<rect x="65.1" y="516.05" width="3.1" height="23.75" fill="url(#gCyan)" stroke="#2b30f4" stroke-width="0.9"/>
<rect x="69.7" y="505.89" width="3.1" height="33.91" fill="url(#gOrange)" stroke="#ff4438" stroke-width="0.9"/>
<line x1="64.4" y1="498.2" x2="73" y2="498.2" stroke="#222" stroke-width="0.75"/>
<path d="M68.60 493.29 L69.04 494.13 L69.99 494.09 L69.49 494.90 L69.99 495.70 L69.04 495.67 L68.60 496.51 L68.16 495.67 L67.21 495.70 L67.71 494.90 L67.21 494.09 L68.16 494.13 Z" fill="#111" stroke="#111" stroke-width="0.25"/>
<text x="69.9" y="490.2" font-size="5.4" text-anchor="middle" dominant-baseline="central" fill="#111">TLR2</text>
<line x1="75.83" y1="539.8" x2="75.83" y2="541.3" stroke="#222" stroke-width="0.6"/>
<line x1="80.4" y1="512.45" x2="80.4" y2="515.6" stroke="#1e1e1e" stroke-width="0.8"/>
<line x1="78.72" y1="512.45" x2="82.08" y2="512.45" stroke="#1e1e1e" stroke-width="0.9"/>
<line x1="85" y1="507.61" x2="85" y2="515.12" stroke="#1e1e1e" stroke-width="0.8"/>
<line x1="83.32" y1="507.61" x2="86.68" y2="507.61" stroke="#1e1e1e" stroke-width="0.9"/>
<rect x="78.85" y="516.05" width="3.1" height="23.75" fill="url(#gCyan)" stroke="#2b30f4" stroke-width="0.9"/>
<rect x="83.45" y="515.57" width="3.1" height="24.23" fill="url(#gOrange)" stroke="#ff4438" stroke-width="0.9"/>
<line x1="78.5" y1="506.1" x2="87.1" y2="506.1" stroke="#222" stroke-width="0.75"/>
<text class="N" x="81.5" y="502.67" font-size="5.3" text-anchor="middle" dominant-baseline="central" fill="#111">ns</text>
<text x="83.8" y="498.9" font-size="5.4" text-anchor="middle" dominant-baseline="central" fill="#111">TLR3</text>
<line x1="89.58" y1="539.8" x2="89.58" y2="541.3" stroke="#222" stroke-width="0.6"/>
<line x1="94.15" y1="511" x2="94.15" y2="515.6" stroke="#1e1e1e" stroke-width="0.8"/>
<line x1="92.47" y1="511" x2="95.83" y2="511" stroke="#1e1e1e" stroke-width="0.9"/>
<line x1="98.75" y1="511" x2="98.75" y2="515.12" stroke="#1e1e1e" stroke-width="0.8"/>
<line x1="97.07" y1="511" x2="100.43" y2="511" stroke="#1e1e1e" stroke-width="0.9"/>
<rect x="92.6" y="516.05" width="3.1" height="23.75" fill="url(#gCyan)" stroke="#2b30f4" stroke-width="0.9"/>
<rect x="97.2" y="515.57" width="3.1" height="24.23" fill="url(#gOrange)" stroke="#ff4438" stroke-width="0.9"/>
<line x1="92.1" y1="509.1" x2="100.7" y2="509.1" stroke="#222" stroke-width="0.75"/>
<text class="N" x="95.7" y="505.57" font-size="5.3" text-anchor="middle" dominant-baseline="central" fill="#111">ns</text>
<text x="98" y="501.8" font-size="5.4" text-anchor="middle" dominant-baseline="central" fill="#111">TLR4</text>
<line x1="103.33" y1="539.8" x2="103.33" y2="541.3" stroke="#222" stroke-width="0.6"/>
<line x1="107.9" y1="510.03" x2="107.9" y2="515.6" stroke="#1e1e1e" stroke-width="0.8"/>
<line x1="106.22" y1="510.03" x2="109.58" y2="510.03" stroke="#1e1e1e" stroke-width="0.9"/>
<line x1="112.5" y1="517.29" x2="112.5" y2="521.41" stroke="#1e1e1e" stroke-width="0.8"/>
<line x1="110.82" y1="517.29" x2="114.18" y2="517.29" stroke="#1e1e1e" stroke-width="0.9"/>
<rect x="106.35" y="516.05" width="3.1" height="23.75" fill="url(#gCyan)" stroke="#2b30f4" stroke-width="0.9"/>
<rect x="110.95" y="521.86" width="3.1" height="17.94" fill="url(#gOrange)" stroke="#ff4438" stroke-width="0.9"/>
<line x1="107.3" y1="507.3" x2="115.9" y2="507.3" stroke="#222" stroke-width="0.75"/>
<text class="N" x="111.1" y="504.47" font-size="5.3" text-anchor="middle" dominant-baseline="central" fill="#111">ns</text>
<text x="112.6" y="501.1" font-size="5.4" text-anchor="middle" dominant-baseline="central" fill="#111">TLR5</text>
<line x1="117.08" y1="539.8" x2="117.08" y2="541.3" stroke="#222" stroke-width="0.6"/>
<line x1="121.65" y1="510.03" x2="121.65" y2="515.6" stroke="#1e1e1e" stroke-width="0.8"/>
<line x1="119.97" y1="510.03" x2="123.33" y2="510.03" stroke="#1e1e1e" stroke-width="0.9"/>
<line x1="126.25" y1="488.01" x2="126.25" y2="498.42" stroke="#1e1e1e" stroke-width="0.8"/>
<line x1="124.57" y1="488.01" x2="127.93" y2="488.01" stroke="#1e1e1e" stroke-width="0.9"/>
<rect x="120.1" y="516.05" width="3.1" height="23.75" fill="url(#gCyan)" stroke="#2b30f4" stroke-width="0.9"/>
<rect x="124.7" y="498.87" width="3.1" height="40.93" fill="url(#gOrange)" stroke="#ff4438" stroke-width="0.9"/>
<line x1="120.6" y1="485.6" x2="129.2" y2="485.6" stroke="#222" stroke-width="0.75"/>
<path d="M124.00 480.59 L124.44 481.43 L125.39 481.39 L124.89 482.20 L125.39 483.00 L124.44 482.97 L124.00 483.81 L123.56 482.97 L122.61 483.00 L123.11 482.20 L122.61 481.39 L123.56 481.43 Z" fill="#111" stroke="#111" stroke-width="0.25"/>
<text x="124.1" y="476.7" font-size="5.4" text-anchor="middle" dominant-baseline="central" fill="#111">TLR6</text>
<line x1="130.82" y1="539.8" x2="130.82" y2="541.3" stroke="#222" stroke-width="0.6"/>
<line x1="135.4" y1="510.03" x2="135.4" y2="515.6" stroke="#1e1e1e" stroke-width="0.8"/>
<line x1="133.72" y1="510.03" x2="137.08" y2="510.03" stroke="#1e1e1e" stroke-width="0.9"/>
<line x1="140" y1="510.03" x2="140" y2="514.15" stroke="#1e1e1e" stroke-width="0.8"/>
<line x1="138.32" y1="510.03" x2="141.68" y2="510.03" stroke="#1e1e1e" stroke-width="0.9"/>
<rect x="133.85" y="516.05" width="3.1" height="23.75" fill="url(#gCyan)" stroke="#2b30f4" stroke-width="0.9"/>
<rect x="138.45" y="514.6" width="3.1" height="25.2" fill="url(#gOrange)" stroke="#ff4438" stroke-width="0.9"/>
<line x1="133" y1="507" x2="141.6" y2="507" stroke="#222" stroke-width="0.75"/>
<text class="N" x="137.1" y="503.37" font-size="5.3" text-anchor="middle" dominant-baseline="central" fill="#111">ns</text>
<text x="137.7" y="498" font-size="5.4" text-anchor="middle" dominant-baseline="central" fill="#111">TLR7</text>
<line x1="144.57" y1="539.8" x2="144.57" y2="541.3" stroke="#222" stroke-width="0.6"/>
<line x1="149.15" y1="508.1" x2="149.15" y2="515.6" stroke="#1e1e1e" stroke-width="0.8"/>
<line x1="147.47" y1="508.1" x2="150.83" y2="508.1" stroke="#1e1e1e" stroke-width="0.9"/>
<line x1="153.75" y1="447.36" x2="153.75" y2="471.07" stroke="#1e1e1e" stroke-width="0.8"/>
<line x1="152.07" y1="447.36" x2="155.43" y2="447.36" stroke="#1e1e1e" stroke-width="0.9"/>
<rect x="147.6" y="516.05" width="3.1" height="23.75" fill="url(#gCyan)" stroke="#2b30f4" stroke-width="0.9"/>
<rect x="152.2" y="471.52" width="3.1" height="68.28" fill="url(#gOrange)" stroke="#ff4438" stroke-width="0.9"/>
<line x1="146.7" y1="444.7" x2="155.3" y2="444.7" stroke="#222" stroke-width="0.75"/>
<path d="M151.00 439.99 L151.44 440.83 L152.39 440.80 L151.89 441.60 L152.39 442.41 L151.44 442.37 L151.00 443.21 L150.56 442.37 L149.61 442.41 L150.11 441.60 L149.61 440.80 L150.56 440.83 Z" fill="#111" stroke="#111" stroke-width="0.25"/>
<text x="151.7" y="437.4" font-size="5.4" text-anchor="middle" dominant-baseline="central" fill="#111">TLR15</text>
<line x1="158.32" y1="539.8" x2="158.32" y2="541.3" stroke="#222" stroke-width="0.6"/>
<line x1="162.9" y1="510.03" x2="162.9" y2="515.6" stroke="#1e1e1e" stroke-width="0.8"/>
<line x1="161.22" y1="510.03" x2="164.58" y2="510.03" stroke="#1e1e1e" stroke-width="0.9"/>
<line x1="167.5" y1="508.34" x2="167.5" y2="510.52" stroke="#1e1e1e" stroke-width="0.8"/>
<line x1="165.82" y1="508.34" x2="169.18" y2="508.34" stroke="#1e1e1e" stroke-width="0.9"/>
<rect x="161.35" y="516.05" width="3.1" height="23.75" fill="url(#gCyan)" stroke="#2b30f4" stroke-width="0.9"/>
<rect x="165.95" y="510.97" width="3.1" height="28.83" fill="url(#gOrange)" stroke="#ff4438" stroke-width="0.9"/>
<line x1="161" y1="503.9" x2="169.6" y2="503.9" stroke="#222" stroke-width="0.75"/>
<text class="N" x="165.7" y="500.27" font-size="5.3" text-anchor="middle" dominant-baseline="central" fill="#111">ns</text>
<text x="166.3" y="496.5" font-size="5.4" text-anchor="middle" dominant-baseline="central" fill="#111">TLR21</text>
<text class="T" x="23.9" y="490.35" font-size="5.7" text-anchor="middle" dominant-baseline="central" textLength="68.3" lengthAdjust="spacingAndGlyphs" fill="#111" transform="rotate(-90 23.9 490.35)">Relative expression of TLRs</text>
<text class="T" x="30.5" y="491.45" font-size="5.4" text-anchor="middle" dominant-baseline="central" textLength="57.3" lengthAdjust="spacingAndGlyphs" fill="#111" transform="rotate(-90 30.5 491.45)">in chicken embryo spleen</text>
<text class="L" x="9.2" y="427.15" font-size="13.8" text-anchor="middle" dominant-baseline="central" fill="#111">h</text>
</g>
<g id="panel-i">
<line x1="213.2" y1="441.38" x2="213.2" y2="539.8" stroke="#222" stroke-width="1"/>
<line x1="212.7" y1="539.3" x2="339" y2="539.3" stroke="#222" stroke-width="1"/>
<line x1="211.2" y1="539.3" x2="213.2" y2="539.3" stroke="#222" stroke-width="0.75"/>
<text x="210.7" y="539.3" font-size="5.8" text-anchor="end" dominant-baseline="central" fill="#111">0</text>
<line x1="212" y1="533.2" x2="213.2" y2="533.2" stroke="#222" stroke-width="0.55"/>
<line x1="211.2" y1="527.11" x2="213.2" y2="527.11" stroke="#222" stroke-width="0.75"/>
<text x="210.7" y="527.11" font-size="5.8" text-anchor="end" dominant-baseline="central" fill="#111">1</text>
<line x1="212" y1="521.01" x2="213.2" y2="521.01" stroke="#222" stroke-width="0.55"/>
<line x1="211.2" y1="514.92" x2="213.2" y2="514.92" stroke="#222" stroke-width="0.75"/>
<text x="210.7" y="514.92" font-size="5.8" text-anchor="end" dominant-baseline="central" fill="#111">2</text>
<line x1="212" y1="508.82" x2="213.2" y2="508.82" stroke="#222" stroke-width="0.55"/>
<line x1="211.2" y1="502.73" x2="213.2" y2="502.73" stroke="#222" stroke-width="0.75"/>
<text x="210.7" y="502.73" font-size="5.8" text-anchor="end" dominant-baseline="central" fill="#111">3</text>
<line x1="212" y1="496.63" x2="213.2" y2="496.63" stroke="#222" stroke-width="0.55"/>
<line x1="211.2" y1="490.54" x2="213.2" y2="490.54" stroke="#222" stroke-width="0.75"/>
<text x="210.7" y="490.54" font-size="5.8" text-anchor="end" dominant-baseline="central" fill="#111">4</text>
<line x1="212" y1="484.44" x2="213.2" y2="484.44" stroke="#222" stroke-width="0.55"/>
<line x1="211.2" y1="478.35" x2="213.2" y2="478.35" stroke="#222" stroke-width="0.75"/>
<text x="210.7" y="478.35" font-size="5.8" text-anchor="end" dominant-baseline="central" fill="#111">5</text>
<line x1="212" y1="472.25" x2="213.2" y2="472.25" stroke="#222" stroke-width="0.55"/>
<line x1="211.2" y1="466.16" x2="213.2" y2="466.16" stroke="#222" stroke-width="0.75"/>
<text x="210.7" y="466.16" font-size="5.8" text-anchor="end" dominant-baseline="central" fill="#111">6</text>
<line x1="212" y1="460.06" x2="213.2" y2="460.06" stroke="#222" stroke-width="0.55"/>
<line x1="211.2" y1="453.97" x2="213.2" y2="453.97" stroke="#222" stroke-width="0.75"/>
<text x="210.7" y="453.97" font-size="5.8" text-anchor="end" dominant-baseline="central" fill="#111">7</text>
<line x1="212" y1="447.87" x2="213.2" y2="447.87" stroke="#222" stroke-width="0.55"/>
<line x1="211.2" y1="441.78" x2="213.2" y2="441.78" stroke="#222" stroke-width="0.75"/>
<text x="210.7" y="441.78" font-size="5.8" text-anchor="end" dominant-baseline="central" fill="#111">8</text>
<line x1="217.85" y1="526.26" x2="217.85" y2="527.11" stroke="#1e1e1e" stroke-width="0.8"/>
<line x1="216.04" y1="526.26" x2="219.66" y2="526.26" stroke="#1e1e1e" stroke-width="0.9"/>
<line x1="222.75" y1="521.99" x2="222.75" y2="525.28" stroke="#1e1e1e" stroke-width="0.8"/>
<line x1="220.94" y1="521.99" x2="224.56" y2="521.99" stroke="#1e1e1e" stroke-width="0.9"/>
<rect x="216.15" y="527.56" width="3.4" height="11.74" fill="url(#gCyan)" stroke="#2b30f4" stroke-width="0.9"/>
<rect x="221.05" y="525.73" width="3.4" height="13.57" fill="url(#gOrange)" stroke="#ff4438" stroke-width="0.9"/>
<line x1="215.4" y1="519.5" x2="224.6" y2="519.5" stroke="#222" stroke-width="0.75"/>
<text class="N" x="219.1" y="514.42" font-size="5.8" text-anchor="middle" dominant-baseline="central" fill="#111">ns</text>
<text x="223" y="508.6" font-size="6.2" text-anchor="middle" dominant-baseline="central" fill="#111">TLR1A</text>
<line x1="227.29" y1="539.3" x2="227.29" y2="540.8" stroke="#222" stroke-width="0.6"/>
<line x1="231.83" y1="526.26" x2="231.83" y2="527.11" stroke="#1e1e1e" stroke-width="0.8"/>
<line x1="230.02" y1="526.26" x2="233.64" y2="526.26" stroke="#1e1e1e" stroke-width="0.9"/>
<line x1="236.73" y1="447.39" x2="236.73" y2="455.8" stroke="#1e1e1e" stroke-width="0.8"/>
<line x1="234.92" y1="447.39" x2="238.54" y2="447.39" stroke="#1e1e1e" stroke-width="0.9"/>
<rect x="230.13" y="527.56" width="3.4" height="11.74" fill="url(#gCyan)" stroke="#2b30f4" stroke-width="0.9"/>
<rect x="235.03" y="456.25" width="3.4" height="83.05" fill="url(#gOrange)" stroke="#ff4438" stroke-width="0.9"/>
<line x1="231.8" y1="444.1" x2="241" y2="444.1" stroke="#222" stroke-width="0.75"/>
<path d="M232.12 438.75 L232.60 439.67 L233.64 439.63 L233.09 440.50 L233.64 441.37 L232.60 441.33 L232.12 442.25 L231.64 441.33 L230.61 441.37 L231.16 440.50 L230.61 439.63 L231.64 439.67 ZM236.00 438.75 L236.48 439.67 L237.51 439.63 L236.96 440.50 L237.51 441.37 L236.48 441.33 L236.00 442.25 L235.52 441.33 L234.49 441.37 L235.04 440.50 L234.49 439.63 L235.52 439.67 ZM239.88 438.75 L240.36 439.67 L241.39 439.63 L240.84 440.50 L241.39 441.37 L240.36 441.33 L239.88 442.25 L239.40 441.33 L238.36 441.37 L238.91 440.50 L238.36 439.63 L239.40 439.67 Z" fill="#111" stroke="#111" stroke-width="0.25"/>
<text x="235.9" y="435" font-size="6.2" text-anchor="middle" dominant-baseline="central" fill="#111">TLR2</text>
<line x1="241.27" y1="539.3" x2="241.27" y2="540.8" stroke="#222" stroke-width="0.6"/>
<line x1="245.81" y1="523.7" x2="245.81" y2="527.11" stroke="#1e1e1e" stroke-width="0.8"/>
<line x1="244" y1="523.7" x2="247.62" y2="523.7" stroke="#1e1e1e" stroke-width="0.9"/>
<line x1="250.71" y1="527.11" x2="250.71" y2="529.55" stroke="#1e1e1e" stroke-width="0.8"/>
<line x1="248.9" y1="527.11" x2="252.52" y2="527.11" stroke="#1e1e1e" stroke-width="0.9"/>
<rect x="244.11" y="527.56" width="3.4" height="11.74" fill="url(#gCyan)" stroke="#2b30f4" stroke-width="0.9"/>
<rect x="249.01" y="530" width="3.4" height="9.3" fill="url(#gOrange)" stroke="#ff4438" stroke-width="0.9"/>
<line x1="244.5" y1="520.5" x2="253.7" y2="520.5" stroke="#222" stroke-width="0.75"/>
<text class="N" x="249.1" y="516.22" font-size="5.8" text-anchor="middle" dominant-baseline="central" fill="#111">ns</text>
<text x="250" y="510.5" font-size="6.2" text-anchor="middle" dominant-baseline="central" fill="#111">TLR3</text>
<line x1="255.25" y1="539.3" x2="255.25" y2="540.8" stroke="#222" stroke-width="0.6"/>
<line x1="259.79" y1="526.26" x2="259.79" y2="527.11" stroke="#1e1e1e" stroke-width="0.8"/>
<line x1="257.98" y1="526.26" x2="261.6" y2="526.26" stroke="#1e1e1e" stroke-width="0.9"/>
<line x1="264.69" y1="463.84" x2="264.69" y2="467.99" stroke="#1e1e1e" stroke-width="0.8"/>
<line x1="262.88" y1="463.84" x2="266.5" y2="463.84" stroke="#1e1e1e" stroke-width="0.9"/>
<rect x="258.09" y="527.56" width="3.4" height="11.74" fill="url(#gCyan)" stroke="#2b30f4" stroke-width="0.9"/>
<rect x="262.99" y="468.44" width="3.4" height="70.86" fill="url(#gOrange)" stroke="#ff4438" stroke-width="0.9"/>
<line x1="258.9" y1="461.4" x2="268.1" y2="461.4" stroke="#222" stroke-width="0.75"/>
<path d="M258.82 455.95 L259.30 456.87 L260.34 456.83 L259.79 457.70 L260.34 458.57 L259.30 458.53 L258.82 459.45 L258.34 458.53 L257.31 458.57 L257.86 457.70 L257.31 456.83 L258.34 456.87 ZM262.70 455.95 L263.18 456.87 L264.21 456.83 L263.66 457.70 L264.21 458.57 L263.18 458.53 L262.70 459.45 L262.22 458.53 L261.19 458.57 L261.74 457.70 L261.19 456.83 L262.22 456.87 ZM266.58 455.95 L267.06 456.87 L268.09 456.83 L267.54 457.70 L268.09 458.57 L267.06 458.53 L266.58 459.45 L266.10 458.53 L265.06 458.57 L265.61 457.70 L265.06 456.83 L266.10 456.87 Z" fill="#111" stroke="#111" stroke-width="0.25"/>
<text x="263" y="452.3" font-size="6.2" text-anchor="middle" dominant-baseline="central" fill="#111">TLR4</text>
<line x1="269.23" y1="539.3" x2="269.23" y2="540.8" stroke="#222" stroke-width="0.6"/>
<line x1="273.77" y1="526.26" x2="273.77" y2="527.11" stroke="#1e1e1e" stroke-width="0.8"/>
<line x1="271.96" y1="526.26" x2="275.58" y2="526.26" stroke="#1e1e1e" stroke-width="0.9"/>
<line x1="278.67" y1="488.1" x2="278.67" y2="493.95" stroke="#1e1e1e" stroke-width="0.8"/>
<line x1="276.86" y1="488.1" x2="280.48" y2="488.1" stroke="#1e1e1e" stroke-width="0.9"/>
<rect x="272.07" y="527.56" width="3.4" height="11.74" fill="url(#gCyan)" stroke="#2b30f4" stroke-width="0.9"/>
<rect x="276.97" y="494.4" width="3.4" height="44.9" fill="url(#gOrange)" stroke="#ff4438" stroke-width="0.9"/>
<line x1="271.2" y1="484.5" x2="280.4" y2="484.5" stroke="#222" stroke-width="0.75"/>
<path d="M271.62 479.15 L272.10 480.07 L273.14 480.03 L272.59 480.90 L273.14 481.77 L272.10 481.73 L271.62 482.65 L271.14 481.73 L270.11 481.77 L270.66 480.90 L270.11 480.03 L271.14 480.07 ZM275.50 479.15 L275.98 480.07 L277.01 480.03 L276.46 480.90 L277.01 481.77 L275.98 481.73 L275.50 482.65 L275.02 481.73 L273.99 481.77 L274.54 480.90 L273.99 480.03 L275.02 480.07 ZM279.38 479.15 L279.86 480.07 L280.89 480.03 L280.34 480.90 L280.89 481.77 L279.86 481.73 L279.38 482.65 L278.90 481.73 L277.86 481.77 L278.41 480.90 L277.86 480.03 L278.90 480.07 Z" fill="#111" stroke="#111" stroke-width="0.25"/>
<text x="275.5" y="476.1" font-size="6.2" text-anchor="middle" dominant-baseline="central" fill="#111">TLR5</text>
<line x1="283.21" y1="539.3" x2="283.21" y2="540.8" stroke="#222" stroke-width="0.6"/>
<line x1="287.75" y1="526.26" x2="287.75" y2="527.11" stroke="#1e1e1e" stroke-width="0.8"/>
<line x1="285.94" y1="526.26" x2="289.56" y2="526.26" stroke="#1e1e1e" stroke-width="0.9"/>
<line x1="292.65" y1="449.95" x2="292.65" y2="455.8" stroke="#1e1e1e" stroke-width="0.8"/>
<line x1="290.84" y1="449.95" x2="294.46" y2="449.95" stroke="#1e1e1e" stroke-width="0.9"/>
<rect x="286.05" y="527.56" width="3.4" height="11.74" fill="url(#gCyan)" stroke="#2b30f4" stroke-width="0.9"/>
<rect x="290.95" y="456.25" width="3.4" height="83.05" fill="url(#gOrange)" stroke="#ff4438" stroke-width="0.9"/>
<line x1="285.2" y1="447.3" x2="294.4" y2="447.3" stroke="#222" stroke-width="0.75"/>
<path d="M285.52 442.35 L286.00 443.27 L287.04 443.23 L286.49 444.10 L287.04 444.97 L286.00 444.93 L285.52 445.85 L285.04 444.93 L284.01 444.97 L284.56 444.10 L284.01 443.23 L285.04 443.27 ZM289.40 442.35 L289.88 443.27 L290.91 443.23 L290.36 444.10 L290.91 444.97 L289.88 444.93 L289.40 445.85 L288.92 444.93 L287.89 444.97 L288.44 444.10 L287.89 443.23 L288.92 443.27 ZM293.28 442.35 L293.76 443.27 L294.79 443.23 L294.24 444.10 L294.79 444.97 L293.76 444.93 L293.28 445.85 L292.80 444.93 L291.76 444.97 L292.31 444.10 L291.76 443.23 L292.80 443.27 Z" fill="#111" stroke="#111" stroke-width="0.25"/>
<text x="290.2" y="438.4" font-size="6.2" text-anchor="middle" dominant-baseline="central" fill="#111">TLR6</text>
<line x1="297.19" y1="539.3" x2="297.19" y2="540.8" stroke="#222" stroke-width="0.6"/>
<line x1="301.73" y1="521.26" x2="301.73" y2="527.11" stroke="#1e1e1e" stroke-width="0.8"/>
<line x1="299.92" y1="521.26" x2="303.54" y2="521.26" stroke="#1e1e1e" stroke-width="0.9"/>
<line x1="306.63" y1="517.36" x2="306.63" y2="519.92" stroke="#1e1e1e" stroke-width="0.8"/>
<line x1="304.82" y1="517.36" x2="308.44" y2="517.36" stroke="#1e1e1e" stroke-width="0.9"/>
<rect x="300.03" y="527.56" width="3.4" height="11.74" fill="url(#gCyan)" stroke="#2b30f4" stroke-width="0.9"/>
<rect x="304.93" y="520.37" width="3.4" height="18.93" fill="url(#gOrange)" stroke="#ff4438" stroke-width="0.9"/>
<line x1="298.8" y1="514.7" x2="308" y2="514.7" stroke="#222" stroke-width="0.75"/>
<text class="N" x="303.2" y="509.72" font-size="5.8" text-anchor="middle" dominant-baseline="central" fill="#111">ns</text>
<text x="303.4" y="503.6" font-size="6.2" text-anchor="middle" dominant-baseline="central" fill="#111">TLR7</text>
<line x1="311.17" y1="539.3" x2="311.17" y2="540.8" stroke="#222" stroke-width="0.6"/>
<line x1="315.71" y1="526.26" x2="315.71" y2="527.11" stroke="#1e1e1e" stroke-width="0.8"/>
<line x1="313.9" y1="526.26" x2="317.52" y2="526.26" stroke="#1e1e1e" stroke-width="0.9"/>
<line x1="320.61" y1="513.82" x2="320.61" y2="514.31" stroke="#1e1e1e" stroke-width="0.8"/>
<line x1="318.8" y1="513.82" x2="322.42" y2="513.82" stroke="#1e1e1e" stroke-width="0.9"/>
<rect x="314.01" y="527.56" width="3.4" height="11.74" fill="url(#gCyan)" stroke="#2b30f4" stroke-width="0.9"/>
<rect x="318.91" y="514.76" width="3.4" height="24.54" fill="url(#gOrange)" stroke="#ff4438" stroke-width="0.9"/>
<line x1="314" y1="510.9" x2="323.2" y2="510.9" stroke="#222" stroke-width="0.75"/>
<path d="M317.06 503.45 L317.54 504.37 L318.58 504.33 L318.02 505.20 L318.58 506.07 L317.54 506.03 L317.06 506.95 L316.58 506.03 L315.55 506.07 L316.10 505.20 L315.55 504.33 L316.58 504.37 ZM320.94 503.45 L321.42 504.37 L322.45 504.33 L321.90 505.20 L322.45 506.07 L321.42 506.03 L320.94 506.95 L320.46 506.03 L319.42 506.07 L319.98 505.20 L319.42 504.33 L320.46 504.37 Z" fill="#111" stroke="#111" stroke-width="0.25"/>
<text x="319.9" y="499" font-size="6.2" text-anchor="middle" dominant-baseline="central" fill="#111">TLR15</text>
<line x1="325.15" y1="539.3" x2="325.15" y2="540.8" stroke="#222" stroke-width="0.6"/>
<line x1="329.69" y1="525.4" x2="329.69" y2="526.26" stroke="#1e1e1e" stroke-width="0.8"/>
<line x1="327.88" y1="525.4" x2="331.5" y2="525.4" stroke="#1e1e1e" stroke-width="0.9"/>
<line x1="334.59" y1="527.11" x2="334.59" y2="527.84" stroke="#1e1e1e" stroke-width="0.8"/>
<line x1="332.78" y1="527.11" x2="336.4" y2="527.11" stroke="#1e1e1e" stroke-width="0.9"/>
<rect x="327.99" y="526.71" width="3.4" height="12.59" fill="url(#gCyan)" stroke="#2b30f4" stroke-width="0.9"/>
<rect x="332.89" y="528.29" width="3.4" height="11.01" fill="url(#gOrange)" stroke="#ff4438" stroke-width="0.9"/>
<line x1="328.2" y1="523.9" x2="337.4" y2="523.9" stroke="#222" stroke-width="0.75"/>
<text class="N" x="332.7" y="518.32" font-size="5.8" text-anchor="middle" dominant-baseline="central" fill="#111">ns</text>
<text x="334.5" y="513.2" font-size="6.2" text-anchor="middle" dominant-baseline="central" fill="#111">TLR21</text>
<text class="T" x="193.2" y="492" font-size="5.9" text-anchor="middle" dominant-baseline="central" textLength="105.2" lengthAdjust="spacingAndGlyphs" fill="#111" transform="rotate(-90 193.2 492)">Relative mRNA expression level of TLRs</text>
<text class="T" x="199.5" y="490.5" font-size="5.78" text-anchor="middle" dominant-baseline="central" textLength="65.4" lengthAdjust="spacingAndGlyphs" fill="#111" transform="rotate(-90 199.5 490.5)">in chicken embryo thymus</text>
<text class="L" x="179.2" y="427.4" font-size="13.8" text-anchor="middle" dominant-baseline="central" fill="#111">i</text>
</g>
<g id="panel-j">
<line x1="390.4" y1="444.1" x2="390.4" y2="539" stroke="#222" stroke-width="1"/>
<line x1="389.9" y1="538.5" x2="518.3" y2="538.5" stroke="#222" stroke-width="1"/>
<line x1="388.4" y1="538.5" x2="390.4" y2="538.5" stroke="#222" stroke-width="0.75"/>
<text x="387.9" y="538.5" font-size="5.6" text-anchor="end" dominant-baseline="central" fill="#111">0</text>
<line x1="389.2" y1="529.1" x2="390.4" y2="529.1" stroke="#222" stroke-width="0.55"/>
<line x1="388.4" y1="519.7" x2="390.4" y2="519.7" stroke="#222" stroke-width="0.75"/>
<text x="387.9" y="519.7" font-size="5.6" text-anchor="end" dominant-baseline="central" fill="#111">2</text>
<line x1="389.2" y1="510.3" x2="390.4" y2="510.3" stroke="#222" stroke-width="0.55"/>
<line x1="388.4" y1="500.9" x2="390.4" y2="500.9" stroke="#222" stroke-width="0.75"/>
<text x="387.9" y="500.9" font-size="5.6" text-anchor="end" dominant-baseline="central" fill="#111">4</text>
<line x1="389.2" y1="491.5" x2="390.4" y2="491.5" stroke="#222" stroke-width="0.55"/>
<line x1="388.4" y1="482.1" x2="390.4" y2="482.1" stroke="#222" stroke-width="0.75"/>
<text x="387.9" y="482.1" font-size="5.6" text-anchor="end" dominant-baseline="central" fill="#111">6</text>
<line x1="389.2" y1="472.7" x2="390.4" y2="472.7" stroke="#222" stroke-width="0.55"/>
<line x1="388.4" y1="463.3" x2="390.4" y2="463.3" stroke="#222" stroke-width="0.75"/>
<text x="387.9" y="463.3" font-size="5.6" text-anchor="end" dominant-baseline="central" fill="#111">8</text>
<line x1="389.2" y1="453.9" x2="390.4" y2="453.9" stroke="#222" stroke-width="0.55"/>
<line x1="388.4" y1="444.5" x2="390.4" y2="444.5" stroke="#222" stroke-width="0.75"/>
<text x="387.9" y="444.5" font-size="5.6" text-anchor="end" dominant-baseline="central" fill="#111">10</text>
<line x1="396.05" y1="527.41" x2="396.05" y2="528.35" stroke="#1e1e1e" stroke-width="0.8"/>
<line x1="394.24" y1="527.41" x2="397.86" y2="527.41" stroke="#1e1e1e" stroke-width="0.9"/>
<line x1="401.25" y1="527.41" x2="401.25" y2="528.35" stroke="#1e1e1e" stroke-width="0.8"/>
<line x1="399.44" y1="527.41" x2="403.06" y2="527.41" stroke="#1e1e1e" stroke-width="0.9"/>
<rect x="394.35" y="528.8" width="3.4" height="9.7" fill="url(#gCyan)" stroke="#2b30f4" stroke-width="0.9"/>
<rect x="399.55" y="528.8" width="3.4" height="9.7" fill="url(#gOrange)" stroke="#ff4438" stroke-width="0.9"/>
<line x1="394.25" y1="525.4" x2="403.75" y2="525.4" stroke="#222" stroke-width="0.75"/>
<text class="N" x="398.6" y="521.27" font-size="5.3" text-anchor="middle" dominant-baseline="central" fill="#111">ns</text>
<text x="402.3" y="516.6" font-size="5.7" text-anchor="middle" dominant-baseline="central" fill="#111">TLR1A</text>
<line x1="405.7" y1="538.5" x2="405.7" y2="540" stroke="#222" stroke-width="0.6"/>
<line x1="410.16" y1="524.49" x2="410.16" y2="529.1" stroke="#1e1e1e" stroke-width="0.8"/>
<line x1="408.35" y1="524.49" x2="411.97" y2="524.49" stroke="#1e1e1e" stroke-width="0.9"/>
<line x1="415.36" y1="457.66" x2="415.36" y2="477.49" stroke="#1e1e1e" stroke-width="0.8"/>
<line x1="413.55" y1="457.66" x2="417.17" y2="457.66" stroke="#1e1e1e" stroke-width="0.9"/>
<rect x="408.46" y="529.55" width="3.4" height="8.95" fill="url(#gCyan)" stroke="#2b30f4" stroke-width="0.9"/>
<rect x="413.66" y="477.94" width="3.4" height="60.56" fill="url(#gOrange)" stroke="#ff4438" stroke-width="0.9"/>
<line x1="408.85" y1="454.7" x2="418.35" y2="454.7" stroke="#222" stroke-width="0.75"/>
<path d="M412.90 450.19 L413.34 451.03 L414.29 451.00 L413.79 451.80 L414.29 452.61 L413.34 452.57 L412.90 453.41 L412.46 452.57 L411.51 452.61 L412.01 451.80 L411.51 451.00 L412.46 451.03 Z" fill="#111" stroke="#111" stroke-width="0.25"/>
<text x="413" y="446.9" font-size="5.7" text-anchor="middle" dominant-baseline="central" fill="#111">TLR2</text>
<line x1="419.81" y1="538.5" x2="419.81" y2="540" stroke="#222" stroke-width="0.6"/>
<line x1="424.27" y1="525.81" x2="424.27" y2="528.82" stroke="#1e1e1e" stroke-width="0.8"/>
<line x1="422.46" y1="525.81" x2="426.08" y2="525.81" stroke="#1e1e1e" stroke-width="0.9"/>
<line x1="429.47" y1="526.56" x2="429.47" y2="527.6" stroke="#1e1e1e" stroke-width="0.8"/>
<line x1="427.66" y1="526.56" x2="431.28" y2="526.56" stroke="#1e1e1e" stroke-width="0.9"/>
<rect x="422.57" y="529.27" width="3.4" height="9.23" fill="url(#gCyan)" stroke="#2b30f4" stroke-width="0.9"/>
<rect x="427.77" y="528.05" width="3.4" height="10.45" fill="url(#gOrange)" stroke="#ff4438" stroke-width="0.9"/>
<line x1="421.55" y1="525.1" x2="431.05" y2="525.1" stroke="#222" stroke-width="0.75"/>
<text class="N" x="426.5" y="520.97" font-size="5.3" text-anchor="middle" dominant-baseline="central" fill="#111">ns</text>
<text x="427" y="516.1" font-size="5.7" text-anchor="middle" dominant-baseline="central" fill="#111">TLR3</text>
<line x1="433.93" y1="538.5" x2="433.93" y2="540" stroke="#222" stroke-width="0.6"/>
<line x1="438.38" y1="525.34" x2="438.38" y2="529.1" stroke="#1e1e1e" stroke-width="0.8"/>
<line x1="436.57" y1="525.34" x2="440.19" y2="525.34" stroke="#1e1e1e" stroke-width="0.9"/>
<line x1="443.58" y1="508.04" x2="443.58" y2="515.56" stroke="#1e1e1e" stroke-width="0.8"/>
<line x1="441.77" y1="508.04" x2="445.39" y2="508.04" stroke="#1e1e1e" stroke-width="0.9"/>
<rect x="436.68" y="529.55" width="3.4" height="8.95" fill="url(#gCyan)" stroke="#2b30f4" stroke-width="0.9"/>
<rect x="441.88" y="516.01" width="3.4" height="22.49" fill="url(#gOrange)" stroke="#ff4438" stroke-width="0.9"/>
<line x1="435.85" y1="506.3" x2="445.35" y2="506.3" stroke="#222" stroke-width="0.75"/>
<path d="M440.40 500.89 L440.84 501.73 L441.79 501.69 L441.29 502.50 L441.79 503.31 L440.84 503.27 L440.40 504.11 L439.96 503.27 L439.01 503.31 L439.51 502.50 L439.01 501.69 L439.96 501.73 Z" fill="#111" stroke="#111" stroke-width="0.25"/>
<text x="440.6" y="497.3" font-size="5.7" text-anchor="middle" dominant-baseline="central" fill="#111">TLR4</text>
<line x1="448.03" y1="538.5" x2="448.03" y2="540" stroke="#222" stroke-width="0.6"/>
<line x1="452.49" y1="527.41" x2="452.49" y2="528.35" stroke="#1e1e1e" stroke-width="0.8"/>
<line x1="450.68" y1="527.41" x2="454.3" y2="527.41" stroke="#1e1e1e" stroke-width="0.9"/>
<line x1="457.69" y1="516.41" x2="457.69" y2="519.42" stroke="#1e1e1e" stroke-width="0.8"/>
<line x1="455.88" y1="516.41" x2="459.5" y2="516.41" stroke="#1e1e1e" stroke-width="0.9"/>
<rect x="450.79" y="528.8" width="3.4" height="9.7" fill="url(#gCyan)" stroke="#2b30f4" stroke-width="0.9"/>
<rect x="455.99" y="519.87" width="3.4" height="18.63" fill="url(#gOrange)" stroke="#ff4438" stroke-width="0.9"/>
<line x1="452.05" y1="513.6" x2="461.55" y2="513.6" stroke="#222" stroke-width="0.75"/>
<path d="M454.81 508.59 L455.26 509.43 L456.21 509.39 L455.70 510.20 L456.21 511.00 L455.26 510.97 L454.81 511.81 L454.37 510.97 L453.42 511.00 L453.93 510.20 L453.42 509.39 L454.37 509.43 ZM458.39 508.59 L458.83 509.43 L459.78 509.39 L459.27 510.20 L459.78 511.00 L458.83 510.97 L458.39 511.81 L457.94 510.97 L456.99 511.00 L457.50 510.20 L456.99 509.39 L457.94 509.43 Z" fill="#111" stroke="#111" stroke-width="0.25"/>
<text x="457.4" y="504.4" font-size="5.7" text-anchor="middle" dominant-baseline="central" fill="#111">TLR5</text>
<line x1="462.14" y1="538.5" x2="462.14" y2="540" stroke="#222" stroke-width="0.6"/>
<line x1="466.6" y1="522.05" x2="466.6" y2="529.1" stroke="#1e1e1e" stroke-width="0.8"/>
<line x1="464.79" y1="522.05" x2="468.41" y2="522.05" stroke="#1e1e1e" stroke-width="0.9"/>
<line x1="471.8" y1="470.63" x2="471.8" y2="485.11" stroke="#1e1e1e" stroke-width="0.8"/>
<line x1="469.99" y1="470.63" x2="473.61" y2="470.63" stroke="#1e1e1e" stroke-width="0.9"/>
<rect x="464.9" y="529.55" width="3.4" height="8.95" fill="url(#gCyan)" stroke="#2b30f4" stroke-width="0.9"/>
<rect x="470.1" y="485.56" width="3.4" height="52.94" fill="url(#gOrange)" stroke="#ff4438" stroke-width="0.9"/>
<line x1="464.15" y1="467.8" x2="473.65" y2="467.8" stroke="#222" stroke-width="0.75"/>
<path d="M468.90 463.09 L469.34 463.93 L470.29 463.89 L469.79 464.70 L470.29 465.50 L469.34 465.47 L468.90 466.31 L468.46 465.47 L467.51 465.50 L468.01 464.70 L467.51 463.89 L468.46 463.93 Z" fill="#111" stroke="#111" stroke-width="0.25"/>
<text x="470.3" y="459.6" font-size="5.7" text-anchor="middle" dominant-baseline="central" fill="#111">TLR6</text>
<line x1="476.25" y1="538.5" x2="476.25" y2="540" stroke="#222" stroke-width="0.6"/>
<line x1="480.71" y1="526.56" x2="480.71" y2="527.6" stroke="#1e1e1e" stroke-width="0.8"/>
<line x1="478.9" y1="526.56" x2="482.52" y2="526.56" stroke="#1e1e1e" stroke-width="0.9"/>
<line x1="485.91" y1="527.03" x2="485.91" y2="529.66" stroke="#1e1e1e" stroke-width="0.8"/>
<line x1="484.1" y1="527.03" x2="487.72" y2="527.03" stroke="#1e1e1e" stroke-width="0.9"/>
<rect x="479.01" y="528.05" width="3.4" height="10.45" fill="url(#gCyan)" stroke="#2b30f4" stroke-width="0.9"/>
<rect x="484.21" y="530.11" width="3.4" height="8.39" fill="url(#gOrange)" stroke="#ff4438" stroke-width="0.9"/>
<line x1="477.85" y1="524.9" x2="487.35" y2="524.9" stroke="#222" stroke-width="0.75"/>
<text class="N" x="482.1" y="521.27" font-size="5.3" text-anchor="middle" dominant-baseline="central" fill="#111">ns</text>
<text x="482.7" y="517.2" font-size="5.7" text-anchor="middle" dominant-baseline="central" fill="#111">TLR7</text>
<line x1="490.36" y1="538.5" x2="490.36" y2="540" stroke="#222" stroke-width="0.6"/>
<line x1="494.82" y1="526.56" x2="494.82" y2="528.35" stroke="#1e1e1e" stroke-width="0.8"/>
<line x1="493.01" y1="526.56" x2="496.63" y2="526.56" stroke="#1e1e1e" stroke-width="0.9"/>
<line x1="500.02" y1="518.76" x2="500.02" y2="519.89" stroke="#1e1e1e" stroke-width="0.8"/>
<line x1="498.21" y1="518.76" x2="501.83" y2="518.76" stroke="#1e1e1e" stroke-width="0.9"/>
<rect x="493.12" y="528.8" width="3.4" height="9.7" fill="url(#gCyan)" stroke="#2b30f4" stroke-width="0.9"/>
<rect x="498.32" y="520.34" width="3.4" height="18.16" fill="url(#gOrange)" stroke="#ff4438" stroke-width="0.9"/>
<line x1="493.75" y1="515.6" x2="503.25" y2="515.6" stroke="#222" stroke-width="0.75"/>
<path d="M496.51 510.89 L496.96 511.73 L497.91 511.69 L497.40 512.50 L497.91 513.30 L496.96 513.27 L496.51 514.11 L496.07 513.27 L495.12 513.30 L495.63 512.50 L495.12 511.69 L496.07 511.73 ZM500.09 510.89 L500.53 511.73 L501.48 511.69 L500.97 512.50 L501.48 513.30 L500.53 513.27 L500.09 514.11 L499.64 513.27 L498.69 513.30 L499.20 512.50 L498.69 511.69 L499.64 511.73 Z" fill="#111" stroke="#111" stroke-width="0.25"/>
<text x="499.8" y="507.1" font-size="5.7" text-anchor="middle" dominant-baseline="central" fill="#111">TLR15</text>
<line x1="504.47" y1="538.5" x2="504.47" y2="540" stroke="#222" stroke-width="0.6"/>
<line x1="508.93" y1="527.41" x2="508.93" y2="528.35" stroke="#1e1e1e" stroke-width="0.8"/>
<line x1="507.12" y1="527.41" x2="510.74" y2="527.41" stroke="#1e1e1e" stroke-width="0.9"/>
<line x1="514.13" y1="530.51" x2="514.13" y2="531.45" stroke="#1e1e1e" stroke-width="0.8"/>
<line x1="512.32" y1="530.51" x2="515.94" y2="530.51" stroke="#1e1e1e" stroke-width="0.9"/>
<rect x="507.23" y="528.8" width="3.4" height="9.7" fill="url(#gCyan)" stroke="#2b30f4" stroke-width="0.9"/>
<rect x="512.43" y="531.9" width="3.4" height="6.6" fill="url(#gOrange)" stroke="#ff4438" stroke-width="0.9"/>
<line x1="507.15" y1="525.7" x2="516.65" y2="525.7" stroke="#222" stroke-width="0.75"/>
<text class="N" x="512.2" y="522.37" font-size="5.3" text-anchor="middle" dominant-baseline="central" fill="#111">ns</text>
<text x="513.4" y="518" font-size="5.7" text-anchor="middle" dominant-baseline="central" fill="#111">TLR21</text>
<text class="T" x="368.5" y="491.5" font-size="5.9" text-anchor="middle" dominant-baseline="central" textLength="70.8" lengthAdjust="spacingAndGlyphs" fill="#111" transform="rotate(-90 368.5 491.5)">Relative expression of TLRs</text>
<text class="T" x="375.9" y="495.15" font-size="5.9" text-anchor="middle" dominant-baseline="central" textLength="107.1" lengthAdjust="spacingAndGlyphs" fill="#111" transform="rotate(-90 375.9 495.15)">in bursal of fabricius of chicken embryo</text>
<text class="L" x="350.8" y="427.35" font-size="13.8" text-anchor="middle" dominant-baseline="central" fill="#111">j</text>
</g>
<rect x="409.1" y="7.5" width="15" height="7.2" fill="#c2c8fb" stroke="#2638e8" stroke-width="1.4"/>
<rect x="409.1" y="16.4" width="15" height="7.3" fill="#fdd3bd" stroke="#fb4a4a" stroke-width="1.4"/>
<text class="G" x="426.6" y="11.0" font-size="7.1" dominant-baseline="central" textLength="60.2" lengthAdjust="spacingAndGlyphs" fill="#111">Non-infection(MG-)</text>
<text class="G" x="426.6" y="19.9" font-size="7.1" dominant-baseline="central" textLength="60.6" lengthAdjust="spacingAndGlyphs" fill="#111">MG infection(MG+)</text>
</svg>
</body></html>
